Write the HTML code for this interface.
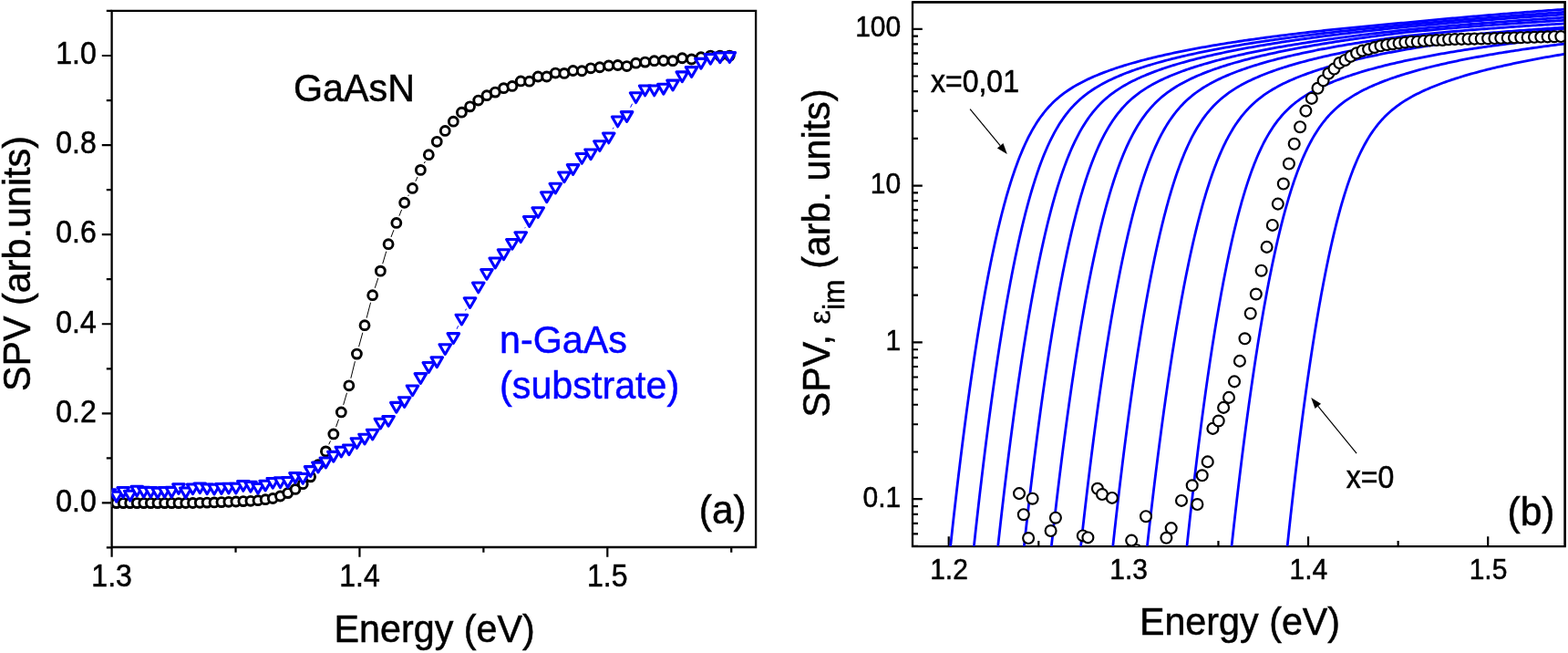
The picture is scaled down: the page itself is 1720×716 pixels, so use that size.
<!DOCTYPE html>
<html><head><meta charset="utf-8"><title>SPV spectra</title>
<style>
html,body{margin:0;padding:0;background:#fff;}
body{width:1720px;height:716px;overflow:hidden;}
svg{display:block;}
text{font-family:'Liberation Sans', Arial, sans-serif;stroke:#000;stroke-width:0.5px;}
.big{font-size:41.3px;}
.tl{font-size:32px;}
.tlb{font-size:30px;}
</style></head><body>
<svg width="1720" height="716" viewBox="0 0 1720 716">
<rect width="1720" height="716" fill="#fff"/>
<g id="pa">
<path d="M122.6 11.8H829.1V600H122.6Z" fill="none" stroke="#000" stroke-width="2.3" stroke-linejoin="miter"/>
<path d="M122.6 600V610.8M258.53 600V605.8M394.45 600V610.8M530.38 600V605.8M666.3 600V610.8M802.23 600V605.8M122.6 600.44H116.8M122.6 551.4H111.8M122.6 502.36H116.8M122.6 453.32H111.8M122.6 404.28H116.8M122.6 355.24H111.8M122.6 306.2H116.8M122.6 257.16H111.8M122.6 208.12H116.8M122.6 159.08H111.8M122.6 110.04H116.8M122.6 61H111.8M122.6 11.96H116.8" stroke="#000" stroke-width="2.2" fill="none"/>
<defs><clipPath id="ca"><rect x="122.6" y="11.8" width="706.5" height="588.2"/></clipPath></defs>
<g clip-path="url(#ca)">
<path fill="none" stroke="#000" stroke-width="1" d="M360.76 487.3L362.46 483.49M368.6 468.09L371.56 459.73M376.66 443.94L380.52 430.76M384.85 414.74L389.43 396.18M393.61 380.11L397.84 364.7M402.13 348.67L406.57 331.71M411.25 315.79L414.78 305.02M419.72 289.18L423.72 275.68M429 259.96L431.92 252.21M437.9 236.73L440.59 229.95M447.7 214.99L448.44 213.66M455.85 198.83L458.01 193.97M465.28 179.06L466.39 177"/>
<circle cx="120.3" cy="551.6" r="4.95" fill="#fff" stroke="#000" stroke-width="2.9"/>
<circle cx="127.73" cy="551.6" r="4.95" fill="#fff" stroke="#000" stroke-width="2.9"/>
<circle cx="135.18" cy="551.6" r="4.95" fill="#fff" stroke="#000" stroke-width="2.9"/>
<circle cx="142.66" cy="551.6" r="4.95" fill="#fff" stroke="#000" stroke-width="2.9"/>
<circle cx="150.18" cy="551.6" r="4.95" fill="#fff" stroke="#000" stroke-width="2.9"/>
<circle cx="157.72" cy="551.6" r="4.95" fill="#fff" stroke="#000" stroke-width="2.9"/>
<circle cx="165.3" cy="551.6" r="4.95" fill="#fff" stroke="#000" stroke-width="2.9"/>
<circle cx="172.92" cy="551.6" r="4.95" fill="#fff" stroke="#000" stroke-width="2.9"/>
<circle cx="180.56" cy="551.6" r="4.95" fill="#fff" stroke="#000" stroke-width="2.9"/>
<circle cx="188.24" cy="551.6" r="4.95" fill="#fff" stroke="#000" stroke-width="2.9"/>
<circle cx="195.95" cy="551.6" r="4.95" fill="#fff" stroke="#000" stroke-width="2.9"/>
<circle cx="203.69" cy="551.5" r="4.95" fill="#fff" stroke="#000" stroke-width="2.9"/>
<circle cx="211.47" cy="551.5" r="4.95" fill="#fff" stroke="#000" stroke-width="2.9"/>
<circle cx="219.28" cy="551.3" r="4.95" fill="#fff" stroke="#000" stroke-width="2.9"/>
<circle cx="227.12" cy="551.1" r="4.95" fill="#fff" stroke="#000" stroke-width="2.9"/>
<circle cx="235" cy="550.9" r="4.95" fill="#fff" stroke="#000" stroke-width="2.9"/>
<circle cx="242.91" cy="550.6" r="4.95" fill="#fff" stroke="#000" stroke-width="2.9"/>
<circle cx="250.85" cy="550.29" r="4.95" fill="#fff" stroke="#000" stroke-width="2.9"/>
<circle cx="258.83" cy="550" r="4.95" fill="#fff" stroke="#000" stroke-width="2.9"/>
<circle cx="266.85" cy="549.6" r="4.95" fill="#fff" stroke="#000" stroke-width="2.9"/>
<circle cx="274.9" cy="549.29" r="4.95" fill="#fff" stroke="#000" stroke-width="2.9"/>
<circle cx="282.99" cy="548.68" r="4.95" fill="#fff" stroke="#000" stroke-width="2.9"/>
<circle cx="291.11" cy="547.71" r="4.95" fill="#fff" stroke="#000" stroke-width="2.9"/>
<circle cx="299.26" cy="546.51" r="4.95" fill="#fff" stroke="#000" stroke-width="2.9"/>
<circle cx="307.46" cy="544.01" r="4.95" fill="#fff" stroke="#000" stroke-width="2.9"/>
<circle cx="315.69" cy="540.61" r="4.95" fill="#fff" stroke="#000" stroke-width="2.9"/>
<circle cx="323.95" cy="536.43" r="4.95" fill="#fff" stroke="#000" stroke-width="2.9"/>
<circle cx="332.25" cy="530.71" r="4.95" fill="#fff" stroke="#000" stroke-width="2.9"/>
<circle cx="340.59" cy="522.86" r="4.95" fill="#fff" stroke="#000" stroke-width="2.9"/>
<circle cx="348.97" cy="509.71" r="4.95" fill="#fff" stroke="#000" stroke-width="2.9"/>
<circle cx="357.39" cy="494.89" r="4.95" fill="#fff" stroke="#000" stroke-width="2.9"/>
<circle cx="365.84" cy="475.91" r="4.95" fill="#fff" stroke="#000" stroke-width="2.9"/>
<circle cx="374.33" cy="451.91" r="4.95" fill="#fff" stroke="#000" stroke-width="2.9"/>
<circle cx="382.86" cy="422.79" r="4.95" fill="#fff" stroke="#000" stroke-width="2.9"/>
<circle cx="391.42" cy="388.12" r="4.95" fill="#fff" stroke="#000" stroke-width="2.9"/>
<circle cx="400.03" cy="356.69" r="4.95" fill="#fff" stroke="#000" stroke-width="2.9"/>
<circle cx="408.67" cy="323.68" r="4.95" fill="#fff" stroke="#000" stroke-width="2.9"/>
<circle cx="417.36" cy="297.14" r="4.95" fill="#fff" stroke="#000" stroke-width="2.9"/>
<circle cx="426.08" cy="267.72" r="4.95" fill="#fff" stroke="#000" stroke-width="2.9"/>
<circle cx="434.84" cy="244.44" r="4.95" fill="#fff" stroke="#000" stroke-width="2.9"/>
<circle cx="443.65" cy="222.24" r="4.95" fill="#fff" stroke="#000" stroke-width="2.9"/>
<circle cx="452.49" cy="206.42" r="4.95" fill="#fff" stroke="#000" stroke-width="2.9"/>
<circle cx="461.37" cy="186.38" r="4.95" fill="#fff" stroke="#000" stroke-width="2.9"/>
<circle cx="470.3" cy="169.68" r="4.95" fill="#fff" stroke="#000" stroke-width="2.9"/>
<circle cx="479.27" cy="155.29" r="4.95" fill="#fff" stroke="#000" stroke-width="2.9"/>
<circle cx="488.27" cy="143.43" r="4.95" fill="#fff" stroke="#000" stroke-width="2.9"/>
<circle cx="497.32" cy="133.21" r="4.95" fill="#fff" stroke="#000" stroke-width="2.9"/>
<circle cx="506.42" cy="123.2" r="4.95" fill="#fff" stroke="#000" stroke-width="2.9"/>
<circle cx="515.55" cy="116.87" r="4.95" fill="#fff" stroke="#000" stroke-width="2.9"/>
<circle cx="524.73" cy="110.03" r="4.95" fill="#fff" stroke="#000" stroke-width="2.9"/>
<circle cx="533.95" cy="104.7" r="4.95" fill="#fff" stroke="#000" stroke-width="2.9"/>
<circle cx="543.21" cy="101.11" r="4.95" fill="#fff" stroke="#000" stroke-width="2.9"/>
<circle cx="552.52" cy="96.64" r="4.95" fill="#fff" stroke="#000" stroke-width="2.9"/>
<circle cx="561.87" cy="94.43" r="4.95" fill="#fff" stroke="#000" stroke-width="2.9"/>
<circle cx="571.26" cy="88.94" r="4.95" fill="#fff" stroke="#000" stroke-width="2.9"/>
<circle cx="580.7" cy="89.2" r="4.95" fill="#fff" stroke="#000" stroke-width="2.9"/>
<circle cx="590.19" cy="84.01" r="4.95" fill="#fff" stroke="#000" stroke-width="2.9"/>
<circle cx="599.72" cy="84" r="4.95" fill="#fff" stroke="#000" stroke-width="2.9"/>
<circle cx="609.29" cy="80.09" r="4.95" fill="#fff" stroke="#000" stroke-width="2.9"/>
<circle cx="618.91" cy="80.4" r="4.95" fill="#fff" stroke="#000" stroke-width="2.9"/>
<circle cx="628.58" cy="77.51" r="4.95" fill="#fff" stroke="#000" stroke-width="2.9"/>
<circle cx="638.29" cy="77.77" r="4.95" fill="#fff" stroke="#000" stroke-width="2.9"/>
<circle cx="648.05" cy="74.84" r="4.95" fill="#fff" stroke="#000" stroke-width="2.9"/>
<circle cx="657.86" cy="73.74" r="4.95" fill="#fff" stroke="#000" stroke-width="2.9"/>
<circle cx="667.71" cy="72.02" r="4.95" fill="#fff" stroke="#000" stroke-width="2.9"/>
<circle cx="677.62" cy="71.5" r="4.95" fill="#fff" stroke="#000" stroke-width="2.9"/>
<circle cx="687.57" cy="72.54" r="4.95" fill="#fff" stroke="#000" stroke-width="2.9"/>
<circle cx="697.57" cy="69.18" r="4.95" fill="#fff" stroke="#000" stroke-width="2.9"/>
<circle cx="707.62" cy="68.11" r="4.95" fill="#fff" stroke="#000" stroke-width="2.9"/>
<circle cx="717.71" cy="66.71" r="4.95" fill="#fff" stroke="#000" stroke-width="2.9"/>
<circle cx="727.86" cy="66.5" r="4.95" fill="#fff" stroke="#000" stroke-width="2.9"/>
<circle cx="738.06" cy="66.65" r="4.95" fill="#fff" stroke="#000" stroke-width="2.9"/>
<circle cx="748.31" cy="63.73" r="4.95" fill="#fff" stroke="#000" stroke-width="2.9"/>
<circle cx="758.6" cy="64.99" r="4.95" fill="#fff" stroke="#000" stroke-width="2.9"/>
<circle cx="768.95" cy="62.74" r="4.95" fill="#fff" stroke="#000" stroke-width="2.9"/>
<circle cx="779.35" cy="61.1" r="4.95" fill="#fff" stroke="#000" stroke-width="2.9"/>
<circle cx="789.81" cy="61.1" r="4.95" fill="#fff" stroke="#000" stroke-width="2.9"/>
<circle cx="800.31" cy="61.1" r="4.95" fill="#fff" stroke="#000" stroke-width="2.9"/>
<path fill="none" stroke="#00f" stroke-width="1" d="M501.11 360.71L502.63 357.28M510.54 340.45L511.43 338.64M575.73 250.23L576.23 249.32M672.19 141.48L673.14 139.76M691.59 117.83L693.54 113.77"/>
<path d="M114 536.85H126.6L120.3 547.65Z" fill="#fff" stroke="#00f" stroke-width="3.05" stroke-linejoin="round"/>
<path d="M121.43 539.33H134.03L127.73 550.13Z" fill="#fff" stroke="#00f" stroke-width="3.05" stroke-linejoin="round"/>
<path d="M128.88 534.59H141.48L135.18 545.39Z" fill="#fff" stroke="#00f" stroke-width="3.05" stroke-linejoin="round"/>
<path d="M136.36 538.32H148.96L142.66 549.12Z" fill="#fff" stroke="#00f" stroke-width="3.05" stroke-linejoin="round"/>
<path d="M143.88 533.2H156.48L150.18 544Z" fill="#fff" stroke="#00f" stroke-width="3.05" stroke-linejoin="round"/>
<path d="M151.42 534.38H164.02L157.72 545.18Z" fill="#fff" stroke="#00f" stroke-width="3.05" stroke-linejoin="round"/>
<path d="M159 534.45H171.6L165.3 545.25Z" fill="#fff" stroke="#00f" stroke-width="3.05" stroke-linejoin="round"/>
<path d="M166.62 535.13H179.22L172.92 545.93Z" fill="#fff" stroke="#00f" stroke-width="3.05" stroke-linejoin="round"/>
<path d="M174.26 534.47H186.86L180.56 545.27Z" fill="#fff" stroke="#00f" stroke-width="3.05" stroke-linejoin="round"/>
<path d="M181.94 534.38H194.54L188.24 545.18Z" fill="#fff" stroke="#00f" stroke-width="3.05" stroke-linejoin="round"/>
<path d="M189.65 530.72H202.25L195.95 541.52Z" fill="#fff" stroke="#00f" stroke-width="3.05" stroke-linejoin="round"/>
<path d="M197.39 535.08H209.99L203.69 545.88Z" fill="#fff" stroke="#00f" stroke-width="3.05" stroke-linejoin="round"/>
<path d="M205.17 530.97H217.77L211.47 541.77Z" fill="#fff" stroke="#00f" stroke-width="3.05" stroke-linejoin="round"/>
<path d="M212.98 529.96H225.58L219.28 540.76Z" fill="#fff" stroke="#00f" stroke-width="3.05" stroke-linejoin="round"/>
<path d="M220.82 530.96H233.42L227.12 541.76Z" fill="#fff" stroke="#00f" stroke-width="3.05" stroke-linejoin="round"/>
<path d="M228.7 531.25H241.3L235 542.05Z" fill="#fff" stroke="#00f" stroke-width="3.05" stroke-linejoin="round"/>
<path d="M236.61 530.58H249.21L242.91 541.38Z" fill="#fff" stroke="#00f" stroke-width="3.05" stroke-linejoin="round"/>
<path d="M244.55 530.15H257.15L250.85 540.95Z" fill="#fff" stroke="#00f" stroke-width="3.05" stroke-linejoin="round"/>
<path d="M252.53 530.15H265.13L258.83 540.95Z" fill="#fff" stroke="#00f" stroke-width="3.05" stroke-linejoin="round"/>
<path d="M260.55 527.54H273.15L266.85 538.34Z" fill="#fff" stroke="#00f" stroke-width="3.05" stroke-linejoin="round"/>
<path d="M268.6 528.38H281.2L274.9 539.18Z" fill="#fff" stroke="#00f" stroke-width="3.05" stroke-linejoin="round"/>
<path d="M276.69 530.44H289.29L282.99 541.24Z" fill="#fff" stroke="#00f" stroke-width="3.05" stroke-linejoin="round"/>
<path d="M284.81 527.22H297.41L291.11 538.02Z" fill="#fff" stroke="#00f" stroke-width="3.05" stroke-linejoin="round"/>
<path d="M292.96 524.44H305.56L299.26 535.24Z" fill="#fff" stroke="#00f" stroke-width="3.05" stroke-linejoin="round"/>
<path d="M301.16 523.88H313.76L307.46 534.68Z" fill="#fff" stroke="#00f" stroke-width="3.05" stroke-linejoin="round"/>
<path d="M309.39 523.57H321.99L315.69 534.37Z" fill="#fff" stroke="#00f" stroke-width="3.05" stroke-linejoin="round"/>
<path d="M317.65 518.58H330.25L323.95 529.38Z" fill="#fff" stroke="#00f" stroke-width="3.05" stroke-linejoin="round"/>
<path d="M325.95 519.49H338.55L332.25 530.29Z" fill="#fff" stroke="#00f" stroke-width="3.05" stroke-linejoin="round"/>
<path d="M334.29 511.61H346.89L340.59 522.41Z" fill="#fff" stroke="#00f" stroke-width="3.05" stroke-linejoin="round"/>
<path d="M342.67 507.1H355.27L348.97 517.9Z" fill="#fff" stroke="#00f" stroke-width="3.05" stroke-linejoin="round"/>
<path d="M351.09 502.08H363.69L357.39 512.88Z" fill="#fff" stroke="#00f" stroke-width="3.05" stroke-linejoin="round"/>
<path d="M359.54 495.35H372.14L365.84 506.15Z" fill="#fff" stroke="#00f" stroke-width="3.05" stroke-linejoin="round"/>
<path d="M368.03 490.15H380.63L374.33 500.95Z" fill="#fff" stroke="#00f" stroke-width="3.05" stroke-linejoin="round"/>
<path d="M376.56 487.92H389.16L382.86 498.72Z" fill="#fff" stroke="#00f" stroke-width="3.05" stroke-linejoin="round"/>
<path d="M385.12 480.68H397.72L391.42 491.48Z" fill="#fff" stroke="#00f" stroke-width="3.05" stroke-linejoin="round"/>
<path d="M393.73 476.18H406.33L400.03 486.98Z" fill="#fff" stroke="#00f" stroke-width="3.05" stroke-linejoin="round"/>
<path d="M402.37 471.17H414.97L408.67 481.97Z" fill="#fff" stroke="#00f" stroke-width="3.05" stroke-linejoin="round"/>
<path d="M411.06 459.16H423.66L417.36 469.96Z" fill="#fff" stroke="#00f" stroke-width="3.05" stroke-linejoin="round"/>
<path d="M419.78 456.47H432.38L426.08 467.27Z" fill="#fff" stroke="#00f" stroke-width="3.05" stroke-linejoin="round"/>
<path d="M428.54 441.39H441.14L434.84 452.19Z" fill="#fff" stroke="#00f" stroke-width="3.05" stroke-linejoin="round"/>
<path d="M437.35 435.68H449.95L443.65 446.48Z" fill="#fff" stroke="#00f" stroke-width="3.05" stroke-linejoin="round"/>
<path d="M446.19 422.9H458.79L452.49 433.7Z" fill="#fff" stroke="#00f" stroke-width="3.05" stroke-linejoin="round"/>
<path d="M455.07 409.63H467.67L461.37 420.43Z" fill="#fff" stroke="#00f" stroke-width="3.05" stroke-linejoin="round"/>
<path d="M464 397.59H476.6L470.3 408.39Z" fill="#fff" stroke="#00f" stroke-width="3.05" stroke-linejoin="round"/>
<path d="M472.97 391.84H485.57L479.27 402.64Z" fill="#fff" stroke="#00f" stroke-width="3.05" stroke-linejoin="round"/>
<path d="M481.97 377.68H494.57L488.27 388.48Z" fill="#fff" stroke="#00f" stroke-width="3.05" stroke-linejoin="round"/>
<path d="M491.02 365.61H503.62L497.32 376.41Z" fill="#fff" stroke="#00f" stroke-width="3.05" stroke-linejoin="round"/>
<path d="M500.12 345.18H512.72L506.42 355.98Z" fill="#fff" stroke="#00f" stroke-width="3.05" stroke-linejoin="round"/>
<path d="M509.25 326.71H521.85L515.55 337.51Z" fill="#fff" stroke="#00f" stroke-width="3.05" stroke-linejoin="round"/>
<path d="M518.43 310.03H531.03L524.73 320.83Z" fill="#fff" stroke="#00f" stroke-width="3.05" stroke-linejoin="round"/>
<path d="M527.65 295.48H540.25L533.95 306.28Z" fill="#fff" stroke="#00f" stroke-width="3.05" stroke-linejoin="round"/>
<path d="M536.91 283.09H549.51L543.21 293.89Z" fill="#fff" stroke="#00f" stroke-width="3.05" stroke-linejoin="round"/>
<path d="M546.22 273.82H558.82L552.52 284.62Z" fill="#fff" stroke="#00f" stroke-width="3.05" stroke-linejoin="round"/>
<path d="M555.57 262.46H568.17L561.87 273.26Z" fill="#fff" stroke="#00f" stroke-width="3.05" stroke-linejoin="round"/>
<path d="M564.96 254.79H577.56L571.26 265.59Z" fill="#fff" stroke="#00f" stroke-width="3.05" stroke-linejoin="round"/>
<path d="M574.4 237.57H587L580.7 248.37Z" fill="#fff" stroke="#00f" stroke-width="3.05" stroke-linejoin="round"/>
<path d="M583.89 227.71H596.49L590.19 238.51Z" fill="#fff" stroke="#00f" stroke-width="3.05" stroke-linejoin="round"/>
<path d="M593.42 210.82H606.02L599.72 221.62Z" fill="#fff" stroke="#00f" stroke-width="3.05" stroke-linejoin="round"/>
<path d="M602.99 201.2H615.59L609.29 212Z" fill="#fff" stroke="#00f" stroke-width="3.05" stroke-linejoin="round"/>
<path d="M612.61 188.91H625.21L618.91 199.71Z" fill="#fff" stroke="#00f" stroke-width="3.05" stroke-linejoin="round"/>
<path d="M622.28 180.63H634.88L628.58 191.43Z" fill="#fff" stroke="#00f" stroke-width="3.05" stroke-linejoin="round"/>
<path d="M631.99 168.49H644.59L638.29 179.29Z" fill="#fff" stroke="#00f" stroke-width="3.05" stroke-linejoin="round"/>
<path d="M641.75 163.92H654.35L648.05 174.72Z" fill="#fff" stroke="#00f" stroke-width="3.05" stroke-linejoin="round"/>
<path d="M651.56 154.73H664.16L657.86 165.53Z" fill="#fff" stroke="#00f" stroke-width="3.05" stroke-linejoin="round"/>
<path d="M661.41 146.03H674.01L667.71 156.83Z" fill="#fff" stroke="#00f" stroke-width="3.05" stroke-linejoin="round"/>
<path d="M671.32 128.01H683.92L677.62 138.81Z" fill="#fff" stroke="#00f" stroke-width="3.05" stroke-linejoin="round"/>
<path d="M681.27 122.62H693.87L687.57 133.42Z" fill="#fff" stroke="#00f" stroke-width="3.05" stroke-linejoin="round"/>
<path d="M691.27 101.79H703.87L697.57 112.59Z" fill="#fff" stroke="#00f" stroke-width="3.05" stroke-linejoin="round"/>
<path d="M701.32 94.04H713.92L707.62 104.84Z" fill="#fff" stroke="#00f" stroke-width="3.05" stroke-linejoin="round"/>
<path d="M711.41 94.03H724.01L717.71 104.83Z" fill="#fff" stroke="#00f" stroke-width="3.05" stroke-linejoin="round"/>
<path d="M721.56 92.32H734.16L727.86 103.12Z" fill="#fff" stroke="#00f" stroke-width="3.05" stroke-linejoin="round"/>
<path d="M731.76 88.14H744.36L738.06 98.94Z" fill="#fff" stroke="#00f" stroke-width="3.05" stroke-linejoin="round"/>
<path d="M742.01 78.86H754.61L748.31 89.66Z" fill="#fff" stroke="#00f" stroke-width="3.05" stroke-linejoin="round"/>
<path d="M752.3 73.64H764.9L758.6 84.44Z" fill="#fff" stroke="#00f" stroke-width="3.05" stroke-linejoin="round"/>
<path d="M762.65 64.38H775.25L768.95 75.18Z" fill="#fff" stroke="#00f" stroke-width="3.05" stroke-linejoin="round"/>
<path d="M773.05 59.42H785.65L779.35 70.22Z" fill="#fff" stroke="#00f" stroke-width="3.05" stroke-linejoin="round"/>
<path d="M783.51 57.95H796.11L789.81 68.75Z" fill="#fff" stroke="#00f" stroke-width="3.05" stroke-linejoin="round"/>
<path d="M794.01 57.62H806.61L800.31 68.42Z" fill="#fff" stroke="#00f" stroke-width="3.05" stroke-linejoin="round"/>
</g>
<text transform="translate(122.6,642.5) scale(1,1.09)" class="tl" text-anchor="middle">1.3</text>
<text transform="translate(394.45,642.5) scale(1,1.09)" class="tl" text-anchor="middle">1.4</text>
<text transform="translate(666.3,642.5) scale(1,1.09)" class="tl" text-anchor="middle">1.5</text>
<text transform="translate(105.8,560.7) scale(1,1.09)" class="tl" text-anchor="end">0.0</text>
<text transform="translate(105.8,462.62) scale(1,1.09)" class="tl" text-anchor="end">0.2</text>
<text transform="translate(105.8,364.54) scale(1,1.09)" class="tl" text-anchor="end">0.4</text>
<text transform="translate(105.8,266.46) scale(1,1.09)" class="tl" text-anchor="end">0.6</text>
<text transform="translate(105.8,168.38) scale(1,1.09)" class="tl" text-anchor="end">0.8</text>
<text transform="translate(105.8,70.3) scale(1,1.09)" class="tl" text-anchor="end">1.0</text>
<text transform="translate(476.6,704) scale(1,1.025)" class="big" text-anchor="middle">Energy (eV)</text>
<text transform="translate(33,289) rotate(-90) scale(1,1.025)" class="big" text-anchor="middle">SPV (arb.units)</text>
<text transform="translate(322,110.9) scale(1,1.025)" class="big">GaAsN</text>
<text transform="translate(548,387) scale(1,1.025)" class="big" style="fill:#00f;stroke:#00f">n-GaAs</text>
<text transform="translate(548,436.5) scale(1,1.025)" class="big" style="fill:#00f;stroke:#00f">(substrate)</text>
<text transform="translate(766.8,573.5) scale(1,1.025)" class="big" style="font-size:42.5px">(a)</text>
</g>
<g id="pb">
<defs><clipPath id="cb"><rect x="1001" y="2.4" width="715.7" height="596.7"/></clipPath></defs>
<path d="M1001 2.4H1716.7V599.1H1001Z" fill="none" stroke="#000" stroke-width="2.3"/>
<path d="M1001 598.92H1007M1001 585.31H1007M1001 573.81H1007M1001 563.85H1007M1001 555.06H1007M1001 547.2H1011.8M1001 495.48H1007M1001 465.23H1007M1001 443.77H1007M1001 427.12H1007M1001 413.51H1007M1001 402.01H1007M1001 392.05H1007M1001 383.26H1007M1001 375.4H1011.8M1001 323.68H1007M1001 293.43H1007M1001 271.97H1007M1001 255.32H1007M1001 241.71H1007M1001 230.21H1007M1001 220.25H1007M1001 211.46H1007M1001 203.6H1011.8M1001 151.88H1007M1001 121.63H1007M1001 100.17H1007M1001 83.52H1007M1001 69.91H1007M1001 58.41H1007M1001 48.45H1007M1001 39.66H1007M1001 31.8H1011.8M1040.7 599.1V588.3M1139.29 599.1V593.1M1237.87 599.1V588.3M1336.46 599.1V593.1M1435.04 599.1V588.3M1533.63 599.1V593.1M1632.21 599.1V588.3" stroke="#000" stroke-width="2.2" fill="none"/>
<g clip-path="url(#cb)">
<polyline fill="none" stroke="#00f" stroke-width="2.8" stroke-linejoin="round" points="1038.63,636.98 1039.27,630.78 1039.91,624.62 1040.55,618.51 1041.19,612.44 1041.83,606.42 1042.48,600.44 1043.12,594.5 1043.76,588.6 1044.4,582.75 1045.04,576.94 1045.68,571.18 1046.32,565.46 1046.97,559.78 1047.61,554.14 1048.25,548.55 1048.89,543 1049.53,537.49 1050.17,532.03 1050.81,526.61 1051.45,521.23 1052.1,515.89 1052.74,510.6 1053.38,505.35 1054.02,500.14 1054.66,494.97 1055.3,489.84 1055.94,484.76 1056.59,479.72 1057.23,474.72 1057.87,469.76 1058.51,464.85 1059.15,459.97 1059.79,455.14 1060.43,450.35 1061.07,445.6 1061.72,440.89 1062.36,436.22 1063,431.6 1063.64,427.01 1064.28,422.47 1064.92,417.96 1065.56,413.5 1066.21,409.08 1066.85,404.7 1067.49,400.36 1068.13,396.05 1068.77,391.8 1069.41,387.57 1070.05,383.39 1070.69,379.25 1071.34,375.15 1071.98,371.09 1072.62,367.07 1073.26,363.09 1073.9,359.14 1074.54,355.24 1075.18,351.37 1075.83,347.55 1076.47,343.76 1077.11,340.01 1077.75,336.3 1078.39,332.63 1079.03,329 1079.67,325.4 1080.31,321.84 1080.96,318.32 1081.6,314.84 1082.24,311.4 1082.88,307.99 1083.52,304.62 1084.16,301.29 1084.8,297.99 1085.45,294.73 1086.09,291.51 1086.73,288.33 1087.37,285.18 1088.01,282.06 1088.65,278.99 1089.29,275.95 1089.93,272.94 1090.58,269.97 1091.22,267.03 1091.86,264.13 1092.5,261.27 1093.14,258.44 1093.78,255.64 1094.42,252.88 1095.07,250.15 1095.71,247.46 1096.35,244.8 1096.99,242.18 1097.63,239.58 1098.27,237.03 1098.91,234.5 1099.55,232.01 1100.2,229.55 1100.84,227.12 1101.48,224.72 1102.12,222.36 1102.76,220.03 1103.4,217.72 1104.04,215.45 1104.69,213.22 1105.33,211.01 1105.97,208.83 1106.61,206.69 1107.25,204.57 1107.89,202.48 1108.53,200.43 1109.18,198.4 1109.82,196.4 1110.46,194.43 1111.1,192.49 1111.74,190.58 1112.38,188.69 1113.66,185.01 1114.95,181.43 1116.23,177.97 1117.51,174.6 1118.8,171.35 1120.08,168.19 1121.36,165.13 1122.64,162.17 1123.93,159.3 1125.21,156.52 1126.49,153.84 1127.77,151.24 1129.06,148.72 1130.34,146.29 1131.62,143.94 1132.9,141.67 1134.19,139.48 1135.47,137.35 1136.75,135.3 1138.04,133.32 1139.32,131.4 1140.6,129.55 1141.88,127.76 1143.17,126.04 1144.45,124.37 1145.73,122.75 1147.01,121.19 1148.3,119.68 1149.58,118.22 1150.86,116.8 1152.14,115.44 1153.43,114.11 1154.71,112.83 1155.99,111.59 1157.92,109.8 1159.84,108.09 1161.76,106.45 1163.69,104.89 1165.61,103.39 1167.54,101.95 1169.46,100.57 1171.38,99.24 1173.31,97.97 1175.23,96.73 1177.16,95.55 1179.08,94.4 1181,93.29 1182.93,92.21 1184.85,91.17 1186.78,90.16 1188.7,89.18 1190.62,88.23 1192.55,87.3 1194.47,86.39 1196.4,85.51 1198.32,84.65 1200.24,83.82 1202.17,83 1204.09,82.2 1206.02,81.41 1207.94,80.65 1209.86,79.9 1211.79,79.17 1213.71,78.45 1215.64,77.74 1217.56,77.05 1219.49,76.37 1221.41,75.71 1223.33,75.05 1225.26,74.41 1227.18,73.78 1229.11,73.16 1231.03,72.55 1232.95,71.95 1234.88,71.36 1236.8,70.78 1239.37,70.02 1241.93,69.28 1244.5,68.55 1247.06,67.83 1249.63,67.13 1252.19,66.44 1254.76,65.77 1257.32,65.1 1259.89,64.45 1262.45,63.81 1265.02,63.18 1267.59,62.56 1270.15,61.96 1272.72,61.36 1275.28,60.77 1277.85,60.19 1280.41,59.62 1282.98,59.06 1285.54,58.5 1288.11,57.96 1290.67,57.42 1293.24,56.89 1295.8,56.37 1298.37,55.85 1300.93,55.35 1303.5,54.84 1306.07,54.35 1308.63,53.86 1311.2,53.38 1313.76,52.91 1316.33,52.44 1318.89,51.97 1321.46,51.52 1324.02,51.06 1326.59,50.62 1329.15,50.18 1331.72,49.74 1334.28,49.31 1336.85,48.88 1339.42,48.46 1341.98,48.05 1344.55,47.63 1347.11,47.23 1349.68,46.82 1352.24,46.43 1354.81,46.03 1357.37,45.64 1359.94,45.25 1362.5,44.87 1365.07,44.49 1367.63,44.12 1370.2,43.75 1372.76,43.38 1375.33,43.02 1377.9,42.66 1380.46,42.3 1383.03,41.95 1385.59,41.6 1388.16,41.25 1390.72,40.91 1393.29,40.57 1395.85,40.23 1398.42,39.9 1400.98,39.57 1403.55,39.24 1406.11,38.91 1408.68,38.59 1411.24,38.27 1413.81,37.96 1416.38,37.64 1418.94,37.33 1421.51,37.02 1424.07,36.71 1426.64,36.41 1429.2,36.11 1431.77,35.81 1434.33,35.51 1436.9,35.22 1439.46,34.93 1442.03,34.64 1444.59,34.35 1447.16,34.06 1449.72,33.78 1452.29,33.5 1454.86,33.22 1457.42,32.94 1459.99,32.67 1462.55,32.4 1465.12,32.13 1467.68,31.86 1470.25,31.59 1472.81,31.32 1475.38,31.06 1477.94,30.8 1480.51,30.54 1483.07,30.28 1485.64,30.03 1488.21,29.77 1490.77,29.52 1493.34,29.27 1495.9,29.02 1498.47,28.77 1501.03,28.53 1503.6,28.28 1506.16,28.04 1508.73,27.8 1511.29,27.56 1513.86,27.32 1516.42,27.09 1518.99,26.85 1521.55,26.62 1524.12,26.39 1526.69,26.16 1529.25,25.93 1531.82,25.7 1534.38,25.47 1536.95,25.25 1539.51,25.02 1542.08,24.78 1544.64,24.53 1547.21,24.28 1549.77,24.03 1552.34,23.79 1554.9,23.54 1557.47,23.3 1560.03,23.06 1562.6,22.81 1565.17,22.57 1567.73,22.34 1570.3,22.1 1572.86,21.86 1575.43,21.63 1577.99,21.39 1580.56,21.16 1583.12,20.93 1585.69,20.7 1588.25,20.47 1590.82,20.24 1593.38,20.01 1595.95,19.78 1598.52,19.56 1601.08,19.33 1603.65,19.11 1606.21,18.89 1608.78,18.67 1611.34,18.45 1613.91,18.23 1616.47,18.01 1619.04,17.79 1621.6,17.57 1624.17,17.36 1626.73,17.14 1629.3,16.93 1631.86,16.72 1634.43,16.5 1637,16.29 1639.56,16.08 1642.13,15.87 1644.69,15.67 1647.26,15.46 1649.82,15.25 1652.39,15.05 1654.95,14.84 1657.52,14.64 1660.08,14.43 1662.65,14.23 1665.21,14.03 1667.78,13.83 1670.34,13.63 1672.91,13.43 1675.48,13.23 1678.04,13.03 1680.61,12.83 1683.17,12.64 1685.74,12.44 1688.3,12.25 1690.87,12.05 1693.43,11.86 1696,11.67 1698.56,11.47 1701.13,11.28 1703.69,11.09 1706.26,10.9 1708.83,10.71 1711.39,10.53 1713.96,10.34 1716.52,10.15 1719.09,9.99 1721.65,9.83 1724.22,9.68 1724.86,9.64"/>
<polyline fill="none" stroke="#00f" stroke-width="2.8" stroke-linejoin="round" points="1064.28,637.71 1064.92,631.5 1065.56,625.35 1066.21,619.23 1066.85,613.16 1067.49,607.14 1068.13,601.15 1068.77,595.21 1069.41,589.31 1070.05,583.46 1070.69,577.65 1071.34,571.88 1071.98,566.16 1072.62,560.48 1073.26,554.84 1073.9,549.25 1074.54,543.69 1075.18,538.19 1075.83,532.72 1076.47,527.29 1077.11,521.91 1077.75,516.58 1078.39,511.28 1079.03,506.03 1079.67,500.81 1080.31,495.64 1080.96,490.52 1081.6,485.43 1082.24,480.39 1082.88,475.38 1083.52,470.42 1084.16,465.51 1084.8,460.63 1085.45,455.79 1086.09,451 1086.73,446.25 1087.37,441.54 1088.01,436.87 1088.65,432.24 1089.29,427.65 1089.93,423.1 1090.58,418.6 1091.22,414.13 1091.86,409.71 1092.5,405.32 1093.14,400.98 1093.78,396.67 1094.42,392.41 1095.07,388.19 1095.71,384 1096.35,379.86 1096.99,375.75 1097.63,371.69 1098.27,367.67 1098.91,363.68 1099.55,359.73 1100.2,355.83 1100.84,351.96 1101.48,348.13 1102.12,344.34 1102.76,340.59 1103.4,336.87 1104.04,333.2 1104.69,329.56 1105.33,325.96 1105.97,322.4 1106.61,318.88 1107.25,315.39 1107.89,311.95 1108.53,308.53 1109.18,305.16 1109.82,301.83 1110.46,298.53 1111.1,295.27 1111.74,292.04 1112.38,288.85 1113.02,285.7 1113.66,282.58 1114.31,279.5 1114.95,276.45 1115.59,273.44 1116.23,270.47 1116.87,267.53 1117.51,264.63 1118.15,261.76 1118.8,258.93 1119.44,256.13 1120.08,253.36 1120.72,250.63 1121.36,247.94 1122,245.27 1122.64,242.64 1123.28,240.05 1123.93,237.48 1124.57,234.96 1125.21,232.46 1125.85,229.99 1126.49,227.56 1127.13,225.16 1127.77,222.8 1128.42,220.46 1129.06,218.16 1129.7,215.88 1130.34,213.64 1130.98,211.43 1131.62,209.25 1132.26,207.1 1132.9,204.98 1133.55,202.89 1134.19,200.83 1134.83,198.8 1135.47,196.8 1136.11,194.82 1136.75,192.88 1137.39,190.96 1138.04,189.08 1138.68,187.22 1139.96,183.58 1141.24,180.05 1142.52,176.63 1143.81,173.31 1145.09,170.1 1146.37,166.98 1147.66,163.97 1148.94,161.05 1150.22,158.22 1151.5,155.48 1152.79,152.83 1154.07,150.27 1155.35,147.8 1156.63,145.4 1157.92,143.08 1159.2,140.84 1160.48,138.68 1161.76,136.59 1163.05,134.57 1164.33,132.61 1165.61,130.73 1166.9,128.9 1168.18,127.14 1169.46,125.44 1170.74,123.79 1172.03,122.2 1173.31,120.66 1174.59,119.17 1175.87,117.73 1177.16,116.33 1178.44,114.99 1179.72,113.68 1181,112.41 1182.29,111.19 1184.21,109.42 1186.14,107.73 1188.06,106.12 1189.98,104.57 1191.91,103.09 1193.83,101.67 1195.76,100.3 1197.68,98.99 1199.6,97.73 1201.53,96.51 1203.45,95.33 1205.38,94.19 1207.3,93.09 1209.22,92.03 1211.15,91 1213.07,89.99 1215,89.02 1216.92,88.07 1218.84,87.15 1220.77,86.26 1222.69,85.38 1224.62,84.53 1226.54,83.7 1228.46,82.88 1230.39,82.09 1232.31,81.31 1234.24,80.55 1236.16,79.8 1238.08,79.07 1240.01,78.36 1241.93,77.66 1243.86,76.97 1245.78,76.3 1247.7,75.63 1249.63,74.98 1251.55,74.34 1253.48,73.72 1255.4,73.1 1257.32,72.49 1259.25,71.9 1261.17,71.31 1263.1,70.73 1265.66,69.98 1268.23,69.23 1270.79,68.51 1273.36,67.8 1275.92,67.1 1278.49,66.41 1281.05,65.74 1283.62,65.08 1286.18,64.43 1288.75,63.79 1291.31,63.16 1293.88,62.55 1296.45,61.94 1299.01,61.35 1301.58,60.76 1304.14,60.18 1306.71,59.61 1309.27,59.05 1311.84,58.5 1314.4,57.96 1316.97,57.42 1319.53,56.89 1322.1,56.37 1324.66,55.86 1327.23,55.35 1329.79,54.85 1332.36,54.36 1334.93,53.87 1337.49,53.39 1340.06,52.92 1342.62,52.45 1345.19,51.99 1347.75,51.53 1350.32,51.08 1352.88,50.64 1355.45,50.2 1358.01,49.76 1360.58,49.33 1363.14,48.91 1365.71,48.49 1368.28,48.07 1370.84,47.66 1373.41,47.25 1375.97,46.85 1378.54,46.45 1381.1,46.06 1383.67,45.67 1386.23,45.29 1388.8,44.9 1391.36,44.53 1393.93,44.15 1396.49,43.78 1399.06,43.42 1401.62,43.05 1404.19,42.7 1406.76,42.34 1409.32,41.99 1411.89,41.64 1414.45,41.29 1417.02,40.95 1419.58,40.61 1422.15,40.27 1424.71,39.94 1427.28,39.61 1429.84,39.28 1432.41,38.96 1434.97,38.64 1437.54,38.32 1440.1,38 1442.67,37.69 1445.24,37.38 1447.8,37.07 1450.37,36.76 1452.93,36.46 1455.5,36.16 1458.06,35.86 1460.63,35.56 1463.19,35.27 1465.76,34.98 1468.32,34.69 1470.89,34.4 1473.45,34.12 1476.02,33.83 1478.59,33.55 1481.15,33.27 1483.72,33 1486.28,32.72 1488.85,32.45 1491.41,32.18 1493.98,31.91 1496.54,31.65 1499.11,31.38 1501.67,31.12 1504.24,30.86 1506.8,30.6 1509.37,30.34 1511.93,30.09 1514.5,29.83 1517.07,29.58 1519.63,29.33 1522.2,29.08 1524.76,28.83 1527.33,28.59 1529.89,28.35 1532.46,28.1 1535.02,27.86 1537.59,27.62 1540.15,27.39 1542.72,27.14 1545.28,26.9 1547.85,26.66 1550.41,26.41 1552.98,26.18 1555.55,25.94 1558.11,25.7 1560.68,25.47 1563.24,25.23 1565.81,25 1568.37,24.77 1570.94,24.54 1573.5,24.31 1576.07,24.09 1578.63,23.86 1581.2,23.64 1583.76,23.41 1586.33,23.19 1588.9,22.97 1591.46,22.75 1594.03,22.53 1596.59,22.32 1599.16,22.1 1601.72,21.89 1604.29,21.67 1606.85,21.46 1609.42,21.25 1611.98,21.04 1614.55,20.83 1617.11,20.62 1619.68,20.41 1622.24,20.21 1624.81,20 1627.38,19.8 1629.94,19.6 1632.51,19.39 1635.07,19.19 1637.64,18.99 1640.2,18.8 1642.77,18.6 1645.33,18.4 1647.9,18.2 1650.46,18.01 1653.03,17.81 1655.59,17.62 1658.16,17.43 1660.72,17.24 1663.29,17.05 1665.86,16.86 1668.42,16.67 1670.99,16.48 1673.55,16.29 1676.12,16.11 1678.68,15.92 1681.25,15.74 1683.81,15.55 1686.38,15.37 1688.94,15.19 1691.51,15.01 1694.07,14.83 1696.64,14.65 1699.21,14.47 1701.77,14.29 1704.34,14.11 1706.9,13.94 1709.47,13.76 1712.03,13.58 1714.6,13.41 1717.16,13.24 1719.73,13.07 1722.29,12.91 1724.86,12.75 1724.86,12.75"/>
<polyline fill="none" stroke="#00f" stroke-width="2.8" stroke-linejoin="round" points="1090.58,637.43 1091.22,631.33 1091.86,625.27 1092.5,619.26 1093.14,613.28 1093.78,607.34 1094.42,601.45 1095.07,595.6 1095.71,589.8 1096.35,584.03 1096.99,578.31 1097.63,572.62 1098.27,566.98 1098.91,561.39 1099.55,555.83 1100.2,550.31 1100.84,544.84 1101.48,539.4 1102.12,534.01 1102.76,528.66 1103.4,523.35 1104.04,518.09 1104.69,512.86 1105.33,507.67 1105.97,502.53 1106.61,497.42 1107.25,492.36 1107.89,487.33 1108.53,482.35 1109.18,477.41 1109.82,472.51 1110.46,467.65 1111.1,462.83 1111.74,458.05 1112.38,453.31 1113.02,448.61 1113.66,443.95 1114.31,439.33 1114.95,434.75 1115.59,430.2 1116.23,425.7 1116.87,421.24 1117.51,416.82 1118.15,412.44 1118.8,408.09 1119.44,403.79 1120.08,399.52 1120.72,395.29 1121.36,391.11 1122,386.96 1122.64,382.85 1123.28,378.77 1123.93,374.74 1124.57,370.74 1125.21,366.79 1125.85,362.87 1126.49,358.99 1127.13,355.14 1127.77,351.34 1128.42,347.57 1129.06,343.84 1129.7,340.15 1130.34,336.49 1130.98,332.87 1131.62,329.29 1132.26,325.74 1132.9,322.24 1133.55,318.76 1134.19,315.33 1134.83,311.93 1135.47,308.57 1136.11,305.24 1136.75,301.95 1137.39,298.7 1138.04,295.48 1138.68,292.29 1139.32,289.14 1139.96,286.03 1140.6,282.95 1141.24,279.91 1141.88,276.9 1142.52,273.93 1143.17,270.98 1143.81,268.08 1144.45,265.21 1145.09,262.37 1145.73,259.57 1146.37,256.79 1147.01,254.06 1147.66,251.35 1148.3,248.68 1148.94,246.04 1149.58,243.44 1150.22,240.87 1150.86,238.32 1151.5,235.82 1152.14,233.34 1152.79,230.89 1153.43,228.48 1154.07,226.1 1154.71,223.74 1155.35,221.42 1155.99,219.13 1156.63,216.87 1157.28,214.64 1157.92,212.44 1158.56,210.27 1159.2,208.13 1159.84,206.02 1160.48,203.94 1161.12,201.89 1161.76,199.87 1162.41,197.87 1163.05,195.9 1163.69,193.96 1164.33,192.05 1164.97,190.17 1166.25,186.48 1167.54,182.9 1168.82,179.43 1170.1,176.05 1171.38,172.78 1172.67,169.61 1173.95,166.54 1175.23,163.56 1176.52,160.67 1177.8,157.88 1179.08,155.17 1180.36,152.55 1181.65,150.01 1182.93,147.55 1184.21,145.18 1185.49,142.88 1186.78,140.66 1188.06,138.51 1189.34,136.43 1190.62,134.42 1191.91,132.47 1193.19,130.59 1194.47,128.78 1195.76,127.02 1197.04,125.32 1198.32,123.68 1199.6,122.09 1200.89,120.55 1202.17,119.06 1203.45,117.62 1204.73,116.23 1206.02,114.88 1207.3,113.57 1208.58,112.3 1209.86,111.08 1211.79,109.3 1213.71,107.61 1215.64,105.99 1217.56,104.44 1219.49,102.96 1221.41,101.53 1223.33,100.16 1225.26,98.84 1227.18,97.57 1229.11,96.35 1231.03,95.17 1232.95,94.03 1234.88,92.93 1236.8,91.86 1238.73,90.82 1240.65,89.82 1242.57,88.84 1244.5,87.89 1246.42,86.97 1248.35,86.07 1250.27,85.19 1252.19,84.34 1254.12,83.51 1256.04,82.69 1257.97,81.89 1259.89,81.12 1261.81,80.35 1263.74,79.61 1265.66,78.88 1267.59,78.16 1269.51,77.46 1271.43,76.77 1273.36,76.1 1275.28,75.43 1277.21,74.78 1279.13,74.14 1281.05,73.52 1282.98,72.9 1284.9,72.29 1286.83,71.69 1288.75,71.11 1290.67,70.53 1293.24,69.77 1295.8,69.03 1298.37,68.3 1300.93,67.59 1303.5,66.89 1306.07,66.21 1308.63,65.53 1311.2,64.87 1313.76,64.22 1316.33,63.58 1318.89,62.96 1321.46,62.34 1324.02,61.73 1326.59,61.14 1329.15,60.55 1331.72,59.97 1334.28,59.4 1336.85,58.84 1339.42,58.29 1341.98,57.75 1344.55,57.21 1347.11,56.68 1349.68,56.16 1352.24,55.65 1354.81,55.14 1357.37,54.64 1359.94,54.15 1362.5,53.66 1365.07,53.18 1367.63,52.71 1370.2,52.24 1372.76,51.78 1375.33,51.32 1377.9,50.87 1380.46,50.43 1383.03,49.99 1385.59,49.55 1388.16,49.12 1390.72,48.7 1393.29,48.28 1395.85,47.86 1398.42,47.45 1400.98,47.04 1403.55,46.64 1406.11,46.24 1408.68,45.85 1411.24,45.46 1413.81,45.08 1416.38,44.69 1418.94,44.32 1421.51,43.94 1424.07,43.57 1426.64,43.21 1429.2,42.84 1431.77,42.49 1434.33,42.13 1436.9,41.78 1439.46,41.43 1442.03,41.08 1444.59,40.74 1447.16,40.4 1449.72,40.06 1452.29,39.73 1454.86,39.4 1457.42,39.07 1459.99,38.75 1462.55,38.43 1465.12,38.11 1467.68,37.79 1470.25,37.48 1472.81,37.17 1475.38,36.86 1477.94,36.55 1480.51,36.25 1483.07,35.95 1485.64,35.65 1488.21,35.35 1490.77,35.06 1493.34,34.77 1495.9,34.48 1498.47,34.19 1501.03,33.91 1503.6,33.62 1506.16,33.34 1508.73,33.06 1511.29,32.79 1513.86,32.51 1516.42,32.24 1518.99,31.97 1521.55,31.7 1524.12,31.44 1526.69,31.17 1529.25,30.91 1531.82,30.65 1534.38,30.39 1536.95,30.13 1539.51,29.88 1542.08,29.63 1544.64,29.38 1547.21,29.14 1549.77,28.89 1552.34,28.65 1554.9,28.41 1557.47,28.17 1560.03,27.94 1562.6,27.7 1565.17,27.47 1567.73,27.24 1570.3,27.01 1572.86,26.78 1575.43,26.55 1577.99,26.33 1580.56,26.1 1583.12,25.88 1585.69,25.66 1588.25,25.44 1590.82,25.22 1593.38,25 1595.95,24.78 1598.52,24.57 1601.08,24.36 1603.65,24.14 1606.21,23.93 1608.78,23.72 1611.34,23.51 1613.91,23.31 1616.47,23.1 1619.04,22.9 1621.6,22.69 1624.17,22.49 1626.73,22.29 1629.3,22.09 1631.86,21.89 1634.43,21.69 1637,21.49 1639.56,21.3 1642.13,21.1 1644.69,20.91 1647.26,20.72 1649.82,20.53 1652.39,20.33 1654.95,20.15 1657.52,19.96 1660.08,19.77 1662.65,19.58 1665.21,19.4 1667.78,19.21 1670.34,19.03 1672.91,18.85 1675.48,18.67 1678.04,18.49 1680.61,18.31 1683.17,18.13 1685.74,17.95 1688.3,17.77 1690.87,17.6 1693.43,17.42 1696,17.25 1698.56,17.07 1701.13,16.9 1703.69,16.73 1706.26,16.56 1708.83,16.39 1711.39,16.22 1713.96,16.05 1716.52,15.88 1719.09,15.71 1721.65,15.54 1724.22,15.37 1724.86,15.32"/>
<polyline fill="none" stroke="#00f" stroke-width="2.8" stroke-linejoin="round" points="1119.44,635.61 1120.08,629.5 1120.72,623.43 1121.36,617.41 1122,611.43 1122.64,605.49 1123.28,599.6 1123.93,593.75 1124.57,587.94 1125.21,582.17 1125.85,576.44 1126.49,570.75 1127.13,565.11 1127.77,559.51 1128.42,553.95 1129.06,548.44 1129.7,542.96 1130.34,537.53 1130.98,532.13 1131.62,526.78 1132.26,521.47 1132.9,516.21 1133.55,510.98 1134.19,505.79 1134.83,500.65 1135.47,495.55 1136.11,490.48 1136.75,485.46 1137.39,480.48 1138.04,475.54 1138.68,470.64 1139.32,465.78 1139.96,460.97 1140.6,456.19 1141.24,451.45 1141.88,446.76 1142.52,442.1 1143.17,437.48 1143.81,432.91 1144.45,428.37 1145.09,423.87 1145.73,419.42 1146.37,415 1147.01,410.62 1147.66,406.28 1148.3,401.98 1148.94,397.72 1149.58,393.5 1150.22,389.32 1150.86,385.18 1151.5,381.07 1152.14,377.01 1152.79,372.98 1153.43,368.99 1154.07,365.04 1154.71,361.13 1155.35,357.26 1155.99,353.42 1156.63,349.63 1157.28,345.87 1157.92,342.14 1158.56,338.46 1159.2,334.81 1159.84,331.2 1160.48,327.63 1161.12,324.1 1161.76,320.6 1162.41,317.13 1163.05,313.71 1163.69,310.32 1164.33,306.97 1164.97,303.65 1165.61,300.37 1166.25,297.13 1166.9,293.92 1167.54,290.75 1168.18,287.61 1168.82,284.51 1169.46,281.44 1170.1,278.41 1170.74,275.41 1171.38,272.45 1172.03,269.52 1172.67,266.63 1173.31,263.77 1173.95,260.94 1174.59,258.15 1175.23,255.39 1175.87,252.67 1176.52,249.98 1177.16,247.32 1177.8,244.7 1178.44,242.1 1179.08,239.54 1179.72,237.01 1180.36,234.52 1181,232.06 1181.65,229.62 1182.29,227.22 1182.93,224.85 1183.57,222.52 1184.21,220.21 1184.85,217.93 1185.49,215.69 1186.14,213.47 1186.78,211.29 1187.42,209.13 1188.06,207 1188.7,204.91 1189.34,202.84 1189.98,200.8 1190.62,198.79 1191.27,196.81 1191.91,194.86 1192.55,192.93 1193.19,191.03 1193.83,189.17 1195.11,185.51 1196.4,181.96 1197.68,178.51 1198.96,175.17 1200.24,171.93 1201.53,168.78 1202.81,165.74 1204.09,162.78 1205.38,159.92 1206.66,157.16 1207.94,154.47 1209.22,151.88 1210.51,149.37 1211.79,146.94 1213.07,144.59 1214.35,142.32 1215.64,140.12 1216.92,137.99 1218.2,135.93 1219.49,133.95 1220.77,132.03 1222.05,130.17 1223.33,128.37 1224.62,126.64 1225.9,124.96 1227.18,123.33 1228.46,121.76 1229.75,120.24 1231.03,118.77 1232.31,117.35 1233.59,115.97 1234.88,114.64 1236.16,113.35 1237.44,112.1 1239.37,110.29 1241.29,108.57 1243.21,106.92 1245.14,105.34 1247.06,103.83 1248.99,102.38 1250.91,100.99 1252.83,99.65 1254.76,98.36 1256.68,97.12 1258.61,95.92 1260.53,94.77 1262.45,93.65 1264.38,92.57 1266.3,91.52 1268.23,90.5 1270.15,89.52 1272.07,88.56 1274,87.62 1275.92,86.71 1277.85,85.83 1279.77,84.97 1281.69,84.12 1283.62,83.3 1285.54,82.5 1287.47,81.71 1289.39,80.94 1291.31,80.19 1293.24,79.45 1295.16,78.73 1297.09,78.03 1299.01,77.33 1300.93,76.65 1302.86,75.98 1304.78,75.33 1306.71,74.68 1308.63,74.05 1310.55,73.43 1312.48,72.82 1314.4,72.22 1316.33,71.63 1318.25,71.04 1320.82,70.28 1323.38,69.54 1325.95,68.8 1328.51,68.09 1331.08,67.38 1333.64,66.7 1336.21,66.02 1338.77,65.35 1341.34,64.7 1343.9,64.06 1346.47,63.43 1349.04,62.81 1351.6,62.2 1354.17,61.6 1356.73,61.01 1359.3,60.43 1361.86,59.86 1364.43,59.29 1366.99,58.74 1369.56,58.19 1372.12,57.66 1374.69,57.12 1377.25,56.6 1379.82,56.09 1382.38,55.58 1384.95,55.08 1387.52,54.58 1390.08,54.09 1392.65,53.61 1395.21,53.13 1397.78,52.66 1400.34,52.2 1402.91,51.74 1405.47,51.29 1408.04,50.84 1410.6,50.4 1413.17,49.96 1415.73,49.53 1418.3,49.11 1420.86,48.68 1423.43,48.27 1426,47.85 1428.56,47.45 1431.13,47.04 1433.69,46.64 1436.26,46.25 1438.82,45.86 1441.39,45.47 1443.95,45.09 1446.52,44.71 1449.08,44.34 1451.65,43.97 1454.21,43.6 1456.78,43.23 1459.35,42.87 1461.91,42.52 1464.48,42.16 1467.04,41.81 1469.61,41.47 1472.17,41.12 1474.74,40.78 1477.3,40.45 1479.87,40.11 1482.43,39.78 1485,39.45 1487.56,39.13 1490.13,38.8 1492.69,38.48 1495.26,38.17 1497.83,37.85 1500.39,37.54 1502.96,37.23 1505.52,36.92 1508.09,36.62 1510.65,36.32 1513.22,36.02 1515.78,35.72 1518.35,35.43 1520.91,35.13 1523.48,34.84 1526.04,34.56 1528.61,34.27 1531.17,33.99 1533.74,33.71 1536.31,33.43 1538.87,33.15 1541.44,32.89 1544,32.64 1546.57,32.39 1549.13,32.14 1551.7,31.89 1554.26,31.65 1556.83,31.41 1559.39,31.17 1561.96,30.93 1564.52,30.7 1567.09,30.46 1569.65,30.23 1572.22,30 1574.79,29.77 1577.35,29.54 1579.92,29.32 1582.48,29.09 1585.05,28.87 1587.61,28.65 1590.18,28.43 1592.74,28.21 1595.31,28 1597.87,27.78 1600.44,27.57 1603,27.36 1605.57,27.14 1608.14,26.94 1610.7,26.73 1613.27,26.52 1615.83,26.32 1618.4,26.11 1620.96,25.91 1623.53,25.71 1626.09,25.51 1628.66,25.31 1631.22,25.12 1633.79,24.92 1636.35,24.73 1638.92,24.54 1641.48,24.34 1644.05,24.15 1646.62,23.96 1649.18,23.78 1651.75,23.59 1654.31,23.4 1656.88,23.22 1659.44,23.03 1662.01,22.85 1664.57,22.67 1667.14,22.49 1669.7,22.31 1672.27,22.13 1674.83,21.96 1677.4,21.78 1679.96,21.61 1682.53,21.43 1685.1,21.26 1687.66,21.09 1690.23,20.92 1692.79,20.75 1695.36,20.58 1697.92,20.41 1700.49,20.24 1703.05,20.08 1705.62,19.91 1708.18,19.75 1710.75,19.59 1713.31,19.42 1715.88,19.26 1718.45,19.09 1721.01,18.91 1723.58,18.73 1724.86,18.64"/>
<polyline fill="none" stroke="#00f" stroke-width="2.8" stroke-linejoin="round" points="1148.94,639.52 1149.58,633.49 1150.22,627.5 1150.86,621.55 1151.5,615.64 1152.14,609.78 1152.79,603.95 1153.43,598.17 1154.07,592.42 1154.71,586.72 1155.35,581.06 1155.99,575.43 1156.63,569.85 1157.28,564.31 1157.92,558.81 1158.56,553.35 1159.2,547.93 1159.84,542.54 1160.48,537.2 1161.12,531.9 1161.76,526.64 1162.41,521.42 1163.05,516.24 1163.69,511.1 1164.33,506 1164.97,500.94 1165.61,495.91 1166.25,490.93 1166.9,485.99 1167.54,481.09 1168.18,476.22 1168.82,471.39 1169.46,466.61 1170.1,461.86 1170.74,457.15 1171.38,452.48 1172.03,447.85 1172.67,443.26 1173.31,438.71 1173.95,434.19 1174.59,429.72 1175.23,425.28 1175.87,420.88 1176.52,416.52 1177.16,412.2 1177.8,407.91 1178.44,403.66 1179.08,399.45 1179.72,395.28 1180.36,391.15 1181,387.05 1181.65,382.99 1182.29,378.97 1182.93,374.99 1183.57,371.04 1184.21,367.13 1184.85,363.26 1185.49,359.42 1186.14,355.62 1186.78,351.86 1187.42,348.13 1188.06,344.44 1188.7,340.79 1189.34,337.17 1189.98,333.59 1190.62,330.05 1191.27,326.54 1191.91,323.06 1192.55,319.62 1193.19,316.22 1193.83,312.85 1194.47,309.52 1195.11,306.22 1195.76,302.96 1196.4,299.73 1197.04,296.54 1197.68,293.38 1198.32,290.25 1198.96,287.16 1199.6,284.11 1200.24,281.09 1200.89,278.1 1201.53,275.14 1202.17,272.22 1202.81,269.33 1203.45,266.48 1204.09,263.66 1204.73,260.86 1205.38,258.11 1206.02,255.38 1206.66,252.69 1207.3,250.03 1207.94,247.4 1208.58,244.81 1209.22,242.24 1209.86,239.71 1210.51,237.21 1211.15,234.74 1211.79,232.3 1212.43,229.89 1213.07,227.51 1213.71,225.16 1214.35,222.84 1215,220.55 1215.64,218.3 1216.28,216.07 1216.92,213.87 1217.56,211.7 1218.2,209.56 1218.84,207.44 1219.49,205.36 1220.13,203.3 1220.77,201.27 1221.41,199.27 1222.05,197.3 1222.69,195.36 1223.33,193.44 1223.97,191.55 1224.62,189.68 1225.9,186.03 1227.18,182.49 1228.46,179.04 1229.75,175.7 1231.03,172.46 1232.31,169.31 1233.59,166.26 1234.88,163.3 1236.16,160.43 1237.44,157.65 1238.73,154.95 1240.01,152.34 1241.29,149.81 1242.57,147.36 1243.86,144.99 1245.14,142.7 1246.42,140.48 1247.7,138.33 1248.99,136.25 1250.27,134.24 1251.55,132.29 1252.83,130.41 1254.12,128.59 1255.4,126.83 1256.68,125.12 1257.97,123.47 1259.25,121.88 1260.53,120.33 1261.81,118.84 1263.1,117.39 1264.38,115.99 1265.66,114.63 1266.94,113.32 1268.23,112.04 1269.51,110.81 1271.43,109.02 1273.36,107.32 1275.28,105.69 1277.21,104.12 1279.13,102.63 1281.05,101.19 1282.98,99.81 1284.9,98.48 1286.83,97.21 1288.75,95.97 1290.67,94.79 1292.6,93.64 1294.52,92.53 1296.45,91.45 1298.37,90.41 1300.29,89.4 1302.22,88.42 1304.14,87.46 1306.07,86.53 1307.99,85.63 1309.91,84.75 1311.84,83.89 1313.76,83.05 1315.69,82.24 1317.61,81.44 1319.53,80.65 1321.46,79.89 1323.38,79.14 1325.31,78.41 1327.23,77.69 1329.15,76.99 1331.08,76.3 1333,75.62 1334.93,74.95 1336.85,74.3 1338.77,73.66 1340.7,73.03 1342.62,72.41 1344.55,71.8 1346.47,71.2 1348.39,70.61 1350.32,70.03 1352.88,69.28 1355.45,68.53 1358.01,67.8 1360.58,67.09 1363.14,66.39 1365.71,65.7 1368.28,65.03 1370.84,64.37 1373.41,63.72 1375.97,63.08 1378.54,62.45 1381.1,61.83 1383.67,61.22 1386.23,60.63 1388.8,60.04 1391.36,59.46 1393.93,58.89 1396.49,58.33 1399.06,57.78 1401.62,57.23 1404.19,56.69 1406.76,56.16 1409.32,55.64 1411.89,55.13 1414.45,54.62 1417.02,54.12 1419.58,53.63 1422.15,53.14 1424.71,52.66 1427.28,52.19 1429.84,51.72 1432.41,51.25 1434.97,50.8 1437.54,50.35 1440.1,49.9 1442.67,49.46 1445.24,49.02 1447.8,48.59 1450.37,48.17 1452.93,47.75 1455.5,47.33 1458.06,46.92 1460.63,46.51 1463.19,46.11 1465.76,45.71 1468.32,45.32 1470.89,44.93 1473.45,44.54 1476.02,44.16 1478.59,43.78 1481.15,43.41 1483.72,43.04 1486.28,42.67 1488.85,42.31 1491.41,41.95 1493.98,41.59 1496.54,41.24 1499.11,40.89 1501.67,40.55 1504.24,40.2 1506.8,39.86 1509.37,39.53 1511.93,39.19 1514.5,38.86 1517.07,38.54 1519.63,38.21 1522.2,37.89 1524.76,37.57 1527.33,37.25 1529.89,36.94 1532.46,36.63 1535.02,36.32 1537.59,36.01 1540.15,35.71 1542.72,35.45 1545.28,35.2 1547.85,34.95 1550.41,34.7 1552.98,34.45 1555.55,34.21 1558.11,33.97 1560.68,33.73 1563.24,33.49 1565.81,33.25 1568.37,33.02 1570.94,32.79 1573.5,32.56 1576.07,32.33 1578.63,32.11 1581.2,31.88 1583.76,31.66 1586.33,31.44 1588.9,31.22 1591.46,31.01 1594.03,30.79 1596.59,30.58 1599.16,30.37 1601.72,30.16 1604.29,29.95 1606.85,29.75 1609.42,29.54 1611.98,29.34 1614.55,29.14 1617.11,28.94 1619.68,28.74 1622.24,28.55 1624.81,28.35 1627.38,28.16 1629.94,27.97 1632.51,27.78 1635.07,27.59 1637.64,27.41 1640.2,27.22 1642.77,27.04 1645.33,26.85 1647.9,26.67 1650.46,26.49 1653.03,26.31 1655.59,26.14 1658.16,25.96 1660.72,25.79 1663.29,25.61 1665.86,25.44 1668.42,25.27 1670.99,25.1 1673.55,24.93 1676.12,24.77 1678.68,24.6 1681.25,24.44 1683.81,24.27 1686.38,24.11 1688.94,23.95 1691.51,23.79 1694.07,23.63 1696.64,23.47 1699.21,23.32 1701.77,23.16 1704.34,23.01 1706.9,22.85 1709.47,22.7 1712.03,22.55 1714.6,22.4 1717.16,22.24 1719.73,22.05 1722.29,21.86 1724.86,21.67 1724.86,21.67"/>
<polyline fill="none" stroke="#00f" stroke-width="2.8" stroke-linejoin="round" points="1181.65,635.48 1182.29,629.42 1182.93,623.39 1183.57,617.41 1184.21,611.47 1184.85,605.57 1185.49,599.71 1186.14,593.9 1186.78,588.12 1187.42,582.39 1188.06,576.7 1188.7,571.05 1189.34,565.44 1189.98,559.87 1190.62,554.35 1191.27,548.86 1191.91,543.42 1192.55,538.02 1193.19,532.65 1193.83,527.33 1194.47,522.05 1195.11,516.81 1195.76,511.62 1196.4,506.46 1197.04,501.34 1197.68,496.26 1198.32,491.23 1198.96,486.23 1199.6,481.27 1200.24,476.36 1200.89,471.48 1201.53,466.65 1202.17,461.85 1202.81,457.09 1203.45,452.38 1204.09,447.7 1204.73,443.06 1205.38,438.46 1206.02,433.91 1206.66,429.39 1207.3,424.91 1207.94,420.47 1208.58,416.07 1209.22,411.7 1209.86,407.38 1210.51,403.09 1211.15,398.85 1211.79,394.64 1212.43,390.47 1213.07,386.34 1213.71,382.25 1214.35,378.2 1215,374.18 1215.64,370.2 1216.28,366.26 1216.92,362.36 1217.56,358.49 1218.2,354.66 1218.84,350.88 1219.49,347.12 1220.13,343.41 1220.77,339.73 1221.41,336.09 1222.05,332.48 1222.69,328.91 1223.33,325.38 1223.97,321.89 1224.62,318.43 1225.26,315.01 1225.9,311.62 1226.54,308.27 1227.18,304.95 1227.82,301.67 1228.46,298.43 1229.11,295.22 1229.75,292.05 1230.39,288.91 1231.03,285.8 1231.67,282.73 1232.31,279.7 1232.95,276.7 1233.59,273.73 1234.24,270.8 1234.88,267.9 1235.52,265.04 1236.16,262.21 1236.8,259.41 1237.44,256.65 1238.08,253.92 1238.73,251.22 1239.37,248.56 1240.01,245.92 1240.65,243.32 1241.29,240.75 1241.93,238.22 1242.57,235.72 1243.21,233.24 1243.86,230.8 1244.5,228.39 1245.14,226.01 1245.78,223.66 1246.42,221.35 1247.06,219.06 1247.7,216.8 1248.35,214.58 1248.99,212.38 1249.63,210.21 1250.27,208.07 1250.91,205.96 1251.55,203.89 1252.19,201.83 1252.83,199.81 1253.48,197.82 1254.12,195.85 1254.76,193.91 1255.4,192 1256.04,190.12 1257.32,186.43 1258.61,182.85 1259.89,179.37 1261.17,176 1262.45,172.73 1263.74,169.55 1265.02,166.48 1266.3,163.49 1267.59,160.6 1268.87,157.8 1270.15,155.09 1271.43,152.46 1272.72,149.92 1274,147.46 1275.28,145.08 1276.56,142.77 1277.85,140.54 1279.13,138.39 1280.41,136.3 1281.69,134.28 1282.98,132.33 1284.26,130.45 1285.54,128.62 1286.83,126.86 1288.11,125.15 1289.39,123.5 1290.67,121.9 1291.96,120.36 1293.24,118.86 1294.52,117.42 1295.8,116.01 1297.09,114.66 1298.37,113.35 1299.65,112.07 1300.93,110.84 1302.86,109.06 1304.78,107.36 1306.71,105.73 1308.63,104.17 1310.55,102.68 1312.48,101.25 1314.4,99.87 1316.33,98.55 1318.25,97.27 1320.17,96.04 1322.1,94.86 1324.02,93.71 1325.95,92.61 1327.87,91.53 1329.79,90.49 1331.72,89.49 1333.64,88.51 1335.57,87.55 1337.49,86.63 1339.42,85.73 1341.34,84.85 1343.26,83.99 1345.19,83.15 1347.11,82.34 1349.04,81.54 1350.96,80.76 1352.88,79.99 1354.81,79.25 1356.73,78.51 1358.66,77.8 1360.58,77.09 1362.5,76.4 1364.43,75.73 1366.35,75.06 1368.28,74.41 1370.2,73.77 1372.12,73.14 1374.05,72.52 1375.97,71.91 1377.9,71.31 1379.82,70.73 1381.74,70.15 1384.31,69.39 1386.87,68.65 1389.44,67.92 1392,67.21 1394.57,66.51 1397.14,65.82 1399.7,65.14 1402.27,64.48 1404.83,63.83 1407.4,63.19 1409.96,62.57 1412.53,61.95 1415.09,61.34 1417.66,60.74 1420.22,60.16 1422.79,59.58 1425.35,59.01 1427.92,58.45 1430.48,57.89 1433.05,57.35 1435.62,56.81 1438.18,56.28 1440.75,55.76 1443.31,55.25 1445.88,54.74 1448.44,54.24 1451.01,53.75 1453.57,53.26 1456.14,52.78 1458.7,52.31 1461.27,51.84 1463.83,51.37 1466.4,50.92 1468.97,50.47 1471.53,50.02 1474.1,49.58 1476.66,49.14 1479.23,48.71 1481.79,48.29 1484.36,47.87 1486.92,47.45 1489.49,47.04 1492.05,46.63 1494.62,46.23 1497.18,45.83 1499.75,45.44 1502.31,45.05 1504.88,44.67 1507.45,44.28 1510.01,43.91 1512.58,43.53 1515.14,43.16 1517.71,42.8 1520.27,42.43 1522.84,42.07 1525.4,41.72 1527.97,41.36 1530.53,41.02 1533.1,40.67 1535.66,40.33 1538.23,39.99 1540.79,39.67 1543.36,39.39 1545.93,39.12 1548.49,38.85 1551.06,38.59 1553.62,38.33 1556.19,38.07 1558.75,37.81 1561.32,37.56 1563.88,37.3 1566.45,37.05 1569.01,36.81 1571.58,36.56 1574.14,36.32 1576.71,36.08 1579.28,35.85 1581.84,35.61 1584.41,35.38 1586.97,35.15 1589.54,34.92 1592.1,34.7 1594.67,34.47 1597.23,34.25 1599.8,34.03 1602.36,33.82 1604.93,33.6 1607.49,33.39 1610.06,33.18 1612.62,32.97 1615.19,32.76 1617.76,32.55 1620.32,32.35 1622.89,32.15 1625.45,31.95 1628.02,31.75 1630.58,31.56 1633.15,31.36 1635.71,31.17 1638.28,30.98 1640.84,30.79 1643.41,30.6 1645.97,30.41 1648.54,30.23 1651.1,30.05 1653.67,29.87 1656.24,29.69 1658.8,29.51 1661.37,29.33 1663.93,29.16 1666.5,28.98 1669.06,28.81 1671.63,28.64 1674.19,28.47 1676.76,28.3 1679.32,28.14 1681.89,27.97 1684.45,27.81 1687.02,27.64 1689.58,27.48 1692.15,27.32 1694.72,27.16 1697.28,27.01 1699.85,26.85 1702.41,26.7 1704.98,26.54 1707.54,26.39 1710.11,26.24 1712.67,26.09 1715.24,25.94 1717.8,25.77 1720.37,25.56 1722.93,25.36 1724.86,25.2"/>
<polyline fill="none" stroke="#00f" stroke-width="2.8" stroke-linejoin="round" points="1216.92,634.98 1217.56,628.87 1218.2,622.8 1218.84,616.78 1219.49,610.8 1220.13,604.86 1220.77,598.96 1221.41,593.1 1222.05,587.29 1222.69,581.52 1223.33,575.79 1223.97,570.11 1224.62,564.46 1225.26,558.86 1225.9,553.3 1226.54,547.78 1227.18,542.31 1227.82,536.87 1228.46,531.48 1229.11,526.13 1229.75,520.82 1230.39,515.56 1231.03,510.33 1231.67,505.14 1232.31,500 1232.95,494.9 1233.59,489.84 1234.24,484.82 1234.88,479.84 1235.52,474.9 1236.16,470 1236.8,465.14 1237.44,460.33 1238.08,455.55 1238.73,450.82 1239.37,446.12 1240.01,441.47 1240.65,436.85 1241.29,432.28 1241.93,427.75 1242.57,423.25 1243.21,418.8 1243.86,414.38 1244.5,410.01 1245.14,405.68 1245.78,401.38 1246.42,397.12 1247.06,392.91 1247.7,388.73 1248.35,384.59 1248.99,380.49 1249.63,376.43 1250.27,372.41 1250.91,368.42 1251.55,364.48 1252.19,360.57 1252.83,356.7 1253.48,352.87 1254.12,349.08 1254.76,345.33 1255.4,341.61 1256.04,337.93 1256.68,334.29 1257.32,330.69 1257.97,327.12 1258.61,323.59 1259.25,320.1 1259.89,316.64 1260.53,313.22 1261.17,309.84 1261.81,306.49 1262.45,303.18 1263.1,299.91 1263.74,296.67 1264.38,293.47 1265.02,290.31 1265.66,287.18 1266.3,284.08 1266.94,281.02 1267.59,278 1268.23,275.01 1268.87,272.05 1269.51,269.13 1270.15,266.25 1270.79,263.39 1271.43,260.58 1272.07,257.79 1272.72,255.04 1273.36,252.33 1274,249.64 1274.64,246.99 1275.28,244.37 1275.92,241.79 1276.56,239.24 1277.21,236.72 1277.85,234.23 1278.49,231.78 1279.13,229.35 1279.77,226.96 1280.41,224.6 1281.05,222.27 1281.69,219.97 1282.34,217.71 1282.98,215.47 1283.62,213.26 1284.26,211.08 1284.9,208.94 1285.54,206.82 1286.18,204.73 1286.83,202.67 1287.47,200.64 1288.11,198.64 1288.75,196.67 1289.39,194.73 1290.03,192.81 1290.67,190.92 1291.31,189.06 1292.6,185.42 1293.88,181.89 1295.16,178.46 1296.45,175.13 1297.73,171.91 1299.01,168.78 1300.29,165.75 1301.58,162.82 1302.86,159.97 1304.14,157.22 1305.42,154.56 1306.71,151.98 1307.99,149.48 1309.27,147.07 1310.55,144.74 1311.84,142.48 1313.12,140.29 1314.4,138.18 1315.69,136.14 1316.97,134.17 1318.25,132.26 1319.53,130.41 1320.82,128.63 1322.1,126.91 1323.38,125.24 1324.66,123.63 1325.95,122.07 1327.23,120.56 1328.51,119.1 1329.79,117.69 1331.08,116.32 1332.36,115 1333.64,113.72 1334.93,112.48 1336.85,110.68 1338.77,108.97 1340.7,107.34 1342.62,105.77 1344.55,104.27 1346.47,102.83 1348.39,101.45 1350.32,100.12 1352.24,98.84 1354.17,97.6 1356.09,96.41 1358.01,95.26 1359.94,94.15 1361.86,93.07 1363.79,92.03 1365.71,91.02 1367.63,90.04 1369.56,89.08 1371.48,88.15 1373.41,87.25 1375.33,86.37 1377.25,85.51 1379.18,84.67 1381.1,83.85 1383.03,83.05 1384.95,82.26 1386.87,81.5 1388.8,80.75 1390.72,80.01 1392.65,79.3 1394.57,78.59 1396.49,77.9 1398.42,77.22 1400.34,76.55 1402.27,75.9 1404.19,75.26 1406.11,74.63 1408.04,74.01 1409.96,73.4 1411.89,72.8 1413.81,72.21 1415.73,71.63 1418.3,70.87 1420.86,70.12 1423.43,69.39 1426,68.68 1428.56,67.98 1431.13,67.29 1433.69,66.61 1436.26,65.95 1438.82,65.3 1441.39,64.66 1443.95,64.03 1446.52,63.41 1449.08,62.8 1451.65,62.2 1454.21,61.61 1456.78,61.04 1459.35,60.46 1461.91,59.9 1464.48,59.35 1467.04,58.8 1469.61,58.27 1472.17,57.74 1474.74,57.21 1477.3,56.7 1479.87,56.19 1482.43,55.69 1485,55.2 1487.56,54.71 1490.13,54.23 1492.69,53.75 1495.26,53.28 1497.83,52.82 1500.39,52.36 1502.96,51.91 1505.52,51.46 1508.09,51.02 1510.65,50.59 1513.22,50.16 1515.78,49.73 1518.35,49.31 1520.91,48.89 1523.48,48.48 1526.04,48.07 1528.61,47.67 1531.17,47.27 1533.74,46.88 1536.31,46.49 1538.87,46.1 1541.44,45.75 1544,45.43 1546.57,45.12 1549.13,44.8 1551.7,44.49 1554.26,44.19 1556.83,43.89 1559.39,43.59 1561.96,43.29 1564.52,43 1567.09,42.71 1569.65,42.43 1572.22,42.15 1574.79,41.87 1577.35,41.59 1579.92,41.32 1582.48,41.05 1585.05,40.78 1587.61,40.52 1590.18,40.25 1592.74,40 1595.31,39.74 1597.87,39.49 1600.44,39.24 1603,38.99 1605.57,38.74 1608.14,38.5 1610.7,38.26 1613.27,38.02 1615.83,37.78 1618.4,37.55 1620.96,37.32 1623.53,37.09 1626.09,36.86 1628.66,36.63 1631.22,36.41 1633.79,36.19 1636.35,35.97 1638.92,35.75 1641.48,35.54 1644.05,35.33 1646.62,35.12 1649.18,34.91 1651.75,34.7 1654.31,34.5 1656.88,34.29 1659.44,34.09 1662.01,33.89 1664.57,33.69 1667.14,33.5 1669.7,33.3 1672.27,33.11 1674.83,32.92 1677.4,32.73 1679.96,32.54 1682.53,32.36 1685.1,32.17 1687.66,31.99 1690.23,31.81 1692.79,31.63 1695.36,31.45 1697.92,31.27 1700.49,31.1 1703.05,30.92 1705.62,30.75 1708.18,30.58 1710.75,30.41 1713.31,30.24 1715.88,30.08 1718.45,29.87 1721.01,29.65 1723.58,29.43 1724.86,29.32"/>
<polyline fill="none" stroke="#00f" stroke-width="2.8" stroke-linejoin="round" points="1254.12,638.53 1254.76,632.49 1255.4,626.49 1256.04,620.54 1256.68,614.62 1257.32,608.75 1257.97,602.92 1258.61,597.13 1259.25,591.38 1259.89,585.67 1260.53,580.01 1261.17,574.38 1261.81,568.8 1262.45,563.26 1263.1,557.75 1263.74,552.29 1264.38,546.87 1265.02,541.49 1265.66,536.15 1266.3,530.86 1266.94,525.6 1267.59,520.38 1268.23,515.2 1268.87,510.06 1269.51,504.97 1270.15,499.91 1270.79,494.89 1271.43,489.92 1272.07,484.98 1272.72,480.08 1273.36,475.23 1274,470.41 1274.64,465.63 1275.28,460.89 1275.92,456.2 1276.56,451.54 1277.21,446.92 1277.85,442.33 1278.49,437.79 1279.13,433.29 1279.77,428.83 1280.41,424.4 1281.05,420.01 1281.69,415.67 1282.34,411.36 1282.98,407.09 1283.62,402.86 1284.26,398.66 1284.9,394.51 1285.54,390.39 1286.18,386.31 1286.83,382.27 1287.47,378.27 1288.11,374.3 1288.75,370.37 1289.39,366.48 1290.03,362.63 1290.67,358.81 1291.31,355.03 1291.96,351.29 1292.6,347.59 1293.24,343.92 1293.88,340.29 1294.52,336.69 1295.16,333.13 1295.8,329.61 1296.45,326.12 1297.09,322.67 1297.73,319.26 1298.37,315.88 1299.01,312.54 1299.65,309.23 1300.29,305.96 1300.93,302.72 1301.58,299.52 1302.22,296.35 1302.86,293.22 1303.5,290.12 1304.14,287.05 1304.78,284.03 1305.42,281.03 1306.07,278.07 1306.71,275.14 1307.35,272.25 1307.99,269.39 1308.63,266.56 1309.27,263.77 1309.91,261.01 1310.55,258.28 1311.2,255.59 1311.84,252.93 1312.48,250.3 1313.12,247.7 1313.76,245.14 1314.4,242.6 1315.04,240.1 1315.69,237.63 1316.33,235.19 1316.97,232.78 1317.61,230.4 1318.25,228.06 1318.89,225.74 1319.53,223.45 1320.17,221.2 1320.82,218.97 1321.46,216.78 1322.1,214.61 1322.74,212.47 1323.38,210.36 1324.02,208.28 1324.66,206.23 1325.31,204.21 1325.95,202.21 1326.59,200.24 1327.23,198.3 1327.87,196.39 1328.51,194.51 1329.79,190.82 1331.08,187.23 1332.36,183.75 1333.64,180.38 1334.93,177.1 1336.21,173.92 1337.49,170.84 1338.77,167.85 1340.06,164.95 1341.34,162.14 1342.62,159.42 1343.9,156.79 1345.19,154.24 1346.47,151.77 1347.75,149.38 1349.04,147.07 1350.32,144.83 1351.6,142.67 1352.88,140.57 1354.17,138.55 1355.45,136.59 1356.73,134.7 1358.01,132.86 1359.3,131.09 1360.58,129.38 1361.86,127.72 1363.14,126.11 1364.43,124.56 1365.71,123.06 1366.99,121.61 1368.28,120.2 1369.56,118.84 1370.84,117.51 1372.12,116.24 1373.41,115 1375.33,113.21 1377.25,111.5 1379.18,109.86 1381.1,108.29 1383.03,106.79 1384.95,105.35 1386.87,103.97 1388.8,102.64 1390.72,101.36 1392.65,100.13 1394.57,98.94 1396.49,97.79 1398.42,96.68 1400.34,95.6 1402.27,94.56 1404.19,93.54 1406.11,92.56 1408.04,91.6 1409.96,90.68 1411.89,89.77 1413.81,88.89 1415.73,88.03 1417.66,87.19 1419.58,86.37 1421.51,85.57 1423.43,84.79 1425.35,84.02 1427.28,83.27 1429.2,82.54 1431.13,81.82 1433.05,81.11 1434.97,80.42 1436.9,79.74 1438.82,79.08 1440.75,78.43 1442.67,77.78 1444.59,77.15 1446.52,76.53 1448.44,75.92 1450.37,75.32 1452.29,74.73 1454.21,74.15 1456.78,73.4 1459.35,72.65 1461.91,71.92 1464.48,71.21 1467.04,70.51 1469.61,69.82 1472.17,69.14 1474.74,68.48 1477.3,67.83 1479.87,67.19 1482.43,66.56 1485,65.94 1487.56,65.33 1490.13,64.74 1492.69,64.15 1495.26,63.57 1497.83,63 1500.39,62.44 1502.96,61.88 1505.52,61.34 1508.09,60.8 1510.65,60.27 1513.22,59.75 1515.78,59.23 1518.35,58.73 1520.91,58.23 1523.48,57.73 1526.04,57.25 1528.61,56.76 1531.17,56.29 1533.74,55.82 1536.31,55.36 1538.87,54.9 1541.44,54.44 1544,53.98 1546.57,53.53 1549.13,53.08 1551.7,52.64 1554.26,52.2 1556.83,51.77 1559.39,51.34 1561.96,50.92 1564.52,50.5 1567.09,50.09 1569.65,49.68 1572.22,49.27 1574.79,48.87 1577.35,48.47 1579.92,48.08 1582.48,47.69 1585.05,47.3 1587.61,46.92 1590.18,46.54 1592.74,46.17 1595.31,45.8 1597.87,45.43 1600.44,45.06 1603,44.7 1605.57,44.35 1608.14,43.99 1610.7,43.64 1613.27,43.29 1615.83,42.95 1618.4,42.6 1620.96,42.26 1623.53,41.93 1626.09,41.59 1628.66,41.26 1631.22,40.93 1633.79,40.61 1636.35,40.28 1638.92,39.96 1641.48,39.65 1644.05,39.33 1646.62,39.02 1649.18,38.71 1651.75,38.4 1654.31,38.09 1656.88,37.79 1659.44,37.49 1662.01,37.19 1664.57,36.89 1667.14,36.6 1669.7,36.31 1672.27,36.01 1674.83,35.73 1677.4,35.44 1679.96,35.16 1682.53,34.87 1685.1,34.59 1687.66,34.32 1690.23,34.04 1692.79,33.76 1695.36,33.49 1697.92,33.22 1700.49,32.95 1703.05,32.68 1705.62,32.42 1708.18,32.15 1710.75,31.89 1713.31,31.63 1715.88,31.37 1718.45,31.12 1721.01,30.88 1723.58,30.64 1724.86,30.52"/>
<polyline fill="none" stroke="#00f" stroke-width="2.8" stroke-linejoin="round" points="1297.73,639.45 1298.37,633.19 1299.01,626.96 1299.65,620.79 1300.29,614.65 1300.93,608.57 1301.58,602.52 1302.22,596.53 1302.86,590.57 1303.5,584.67 1304.14,578.81 1304.78,572.99 1305.42,567.21 1306.07,561.48 1306.71,555.8 1307.35,550.16 1307.99,544.56 1308.63,539.01 1309.27,533.51 1309.91,528.04 1310.55,522.62 1311.2,517.25 1311.84,511.92 1312.48,506.63 1313.12,501.39 1313.76,496.19 1314.4,491.03 1315.04,485.92 1315.69,480.85 1316.33,475.82 1316.97,470.84 1317.61,465.9 1318.25,461 1318.89,456.15 1319.53,451.34 1320.17,446.57 1320.82,441.84 1321.46,437.16 1322.1,432.52 1322.74,427.92 1323.38,423.36 1324.02,418.85 1324.66,414.38 1325.31,409.95 1325.95,405.56 1326.59,401.22 1327.23,396.91 1327.87,392.65 1328.51,388.42 1329.15,384.24 1329.79,380.1 1330.44,376.01 1331.08,371.95 1331.72,367.93 1332.36,363.95 1333,360.02 1333.64,356.12 1334.28,352.27 1334.93,348.45 1335.57,344.67 1336.21,340.94 1336.85,337.24 1337.49,333.59 1338.13,329.97 1338.77,326.39 1339.42,322.85 1340.06,319.35 1340.7,315.89 1341.34,312.47 1341.98,309.08 1342.62,305.74 1343.26,302.43 1343.9,299.16 1344.55,295.93 1345.19,292.73 1345.83,289.57 1346.47,286.45 1347.11,283.37 1347.75,280.32 1348.39,277.31 1349.04,274.34 1349.68,271.4 1350.32,268.5 1350.96,265.64 1351.6,262.81 1352.24,260.02 1352.88,257.26 1353.52,254.54 1354.17,251.85 1354.81,249.2 1355.45,246.58 1356.09,243.99 1356.73,241.44 1357.37,238.93 1358.01,236.44 1358.66,233.99 1359.3,231.58 1359.94,229.2 1360.58,226.84 1361.22,224.53 1361.86,222.24 1362.5,219.99 1363.14,217.77 1363.79,215.58 1364.43,213.42 1365.07,211.29 1365.71,209.19 1366.35,207.12 1366.99,205.09 1367.63,203.08 1368.28,201.11 1368.92,199.16 1369.56,197.24 1370.2,195.35 1370.84,193.49 1372.12,189.86 1373.41,186.33 1374.69,182.92 1375.97,179.61 1377.25,176.4 1378.54,173.3 1379.82,170.3 1381.1,167.4 1382.38,164.59 1383.67,161.87 1384.95,159.24 1386.23,156.7 1387.52,154.25 1388.8,151.88 1390.08,149.59 1391.36,147.38 1392.65,145.24 1393.93,143.18 1395.21,141.18 1396.49,139.26 1397.78,137.4 1399.06,135.6 1400.34,133.87 1401.62,132.19 1402.91,130.58 1404.19,129.01 1405.47,127.5 1406.76,126.04 1408.04,124.63 1409.32,123.26 1410.6,121.94 1411.89,120.66 1413.17,119.42 1415.09,117.63 1417.02,115.92 1418.94,114.29 1420.86,112.73 1422.79,111.24 1424.71,109.8 1426.64,108.43 1428.56,107.1 1430.48,105.83 1432.41,104.6 1434.33,103.42 1436.26,102.28 1438.18,101.17 1440.1,100.1 1442.03,99.06 1443.95,98.05 1445.88,97.07 1447.8,96.12 1449.72,95.19 1451.65,94.29 1453.57,93.41 1455.5,92.55 1457.42,91.72 1459.35,90.9 1461.27,90.1 1463.19,89.32 1465.12,88.56 1467.04,87.81 1468.97,87.07 1470.89,86.36 1472.81,85.65 1474.74,84.96 1476.66,84.28 1478.59,83.62 1480.51,82.96 1482.43,82.32 1484.36,81.69 1486.28,81.07 1488.21,80.46 1490.13,79.86 1492.05,79.28 1493.98,78.69 1496.54,77.94 1499.11,77.19 1501.67,76.46 1504.24,75.75 1506.8,75.05 1509.37,74.36 1511.93,73.68 1514.5,73.02 1517.07,72.37 1519.63,71.73 1522.2,71.1 1524.76,70.48 1527.33,69.87 1529.89,69.28 1532.46,68.69 1535.02,68.11 1537.59,67.54 1540.15,66.97 1542.72,66.42 1545.28,65.88 1547.85,65.34 1550.41,64.81 1552.98,64.29 1555.55,63.77 1558.11,63.26 1560.68,62.76 1563.24,62.27 1565.81,61.78 1568.37,61.3 1570.94,60.82 1573.5,60.36 1576.07,59.89 1578.63,59.43 1581.2,58.98 1583.76,58.54 1586.33,58.1 1588.9,57.66 1591.46,57.23 1594.03,56.8 1596.59,56.38 1599.16,55.96 1601.72,55.55 1604.29,55.15 1606.85,54.74 1609.42,54.34 1611.98,53.95 1614.55,53.56 1617.11,53.17 1619.68,52.79 1622.24,52.41 1624.81,52.04 1627.38,51.67 1629.94,51.3 1632.51,50.94 1635.07,50.58 1637.64,50.22 1640.2,49.87 1642.77,49.52 1645.33,49.17 1647.9,48.83 1650.46,48.49 1653.03,48.15 1655.59,47.82 1658.16,47.49 1660.72,47.16 1663.29,46.83 1665.86,46.51 1668.42,46.19 1670.99,45.87 1673.55,45.56 1676.12,45.25 1678.68,44.94 1681.25,44.63 1683.81,44.33 1686.38,44.03 1688.94,43.73 1691.51,43.43 1694.07,43.14 1696.64,42.85 1699.21,42.56 1701.77,42.27 1704.34,41.98 1706.9,41.7 1709.47,41.42 1712.03,41.14 1714.6,40.86 1717.16,40.59 1719.73,40.32 1722.29,40.04 1724.86,39.78 1724.86,39.78"/>
<polyline fill="none" stroke="#00f" stroke-width="2.8" stroke-linejoin="round" points="1347.11,635.57 1347.75,629.45 1348.39,623.36 1349.04,617.32 1349.68,611.32 1350.32,605.37 1350.96,599.46 1351.6,593.59 1352.24,587.77 1352.88,581.99 1353.52,576.25 1354.17,570.55 1354.81,564.91 1355.45,559.3 1356.09,553.73 1356.73,548.21 1357.37,542.73 1358.01,537.29 1358.66,531.9 1359.3,526.55 1359.94,521.24 1360.58,515.97 1361.22,510.75 1361.86,505.57 1362.5,500.43 1363.14,495.33 1363.79,490.28 1364.43,485.26 1365.07,480.29 1365.71,475.37 1366.35,470.48 1366.99,465.63 1367.63,460.83 1368.28,456.06 1368.92,451.34 1369.56,446.66 1370.2,442.02 1370.84,437.43 1371.48,432.87 1372.12,428.35 1372.76,423.88 1373.41,419.44 1374.05,415.05 1374.69,410.7 1375.33,406.38 1375.97,402.11 1376.61,397.88 1377.25,393.69 1377.9,389.53 1378.54,385.42 1379.18,381.35 1379.82,377.31 1380.46,373.32 1381.1,369.37 1381.74,365.45 1382.38,361.58 1383.03,357.74 1383.67,353.94 1384.31,350.18 1384.95,346.46 1385.59,342.78 1386.23,339.13 1386.87,335.53 1387.52,331.96 1388.16,328.43 1388.8,324.94 1389.44,321.49 1390.08,318.07 1390.72,314.69 1391.36,311.35 1392,308.04 1392.65,304.77 1393.29,301.54 1393.93,298.35 1394.57,295.19 1395.21,292.07 1395.85,288.98 1396.49,285.93 1397.14,282.91 1397.78,279.94 1398.42,276.99 1399.06,274.08 1399.7,271.21 1400.34,268.37 1400.98,265.57 1401.62,262.8 1402.27,260.06 1402.91,257.36 1403.55,254.7 1404.19,252.06 1404.83,249.46 1405.47,246.9 1406.11,244.36 1406.76,241.86 1407.4,239.39 1408.04,236.96 1408.68,234.56 1409.32,232.19 1409.96,229.85 1410.6,227.54 1411.24,225.26 1411.89,223.02 1412.53,220.8 1413.17,218.62 1413.81,216.47 1414.45,214.35 1415.09,212.25 1415.73,210.19 1416.38,208.16 1417.02,206.15 1417.66,204.18 1418.3,202.23 1418.94,200.31 1419.58,198.42 1420.22,196.56 1421.51,192.92 1422.79,189.39 1424.07,185.97 1425.35,182.65 1426.64,179.43 1427.92,176.31 1429.2,173.29 1430.48,170.37 1431.77,167.54 1433.05,164.8 1434.33,162.15 1435.62,159.59 1436.9,157.11 1438.18,154.72 1439.46,152.4 1440.75,150.16 1442.03,147.99 1443.31,145.9 1444.59,143.88 1445.88,141.93 1447.16,140.04 1448.44,138.22 1449.72,136.45 1451.01,134.75 1452.29,133.1 1453.57,131.51 1454.86,129.97 1456.14,128.48 1457.42,127.04 1458.7,125.65 1459.99,124.3 1461.27,123 1462.55,121.73 1463.83,120.51 1465.76,118.74 1467.68,117.05 1469.61,115.44 1471.53,113.89 1473.45,112.41 1475.38,110.99 1477.3,109.63 1479.23,108.32 1481.15,107.05 1483.07,105.83 1485,104.66 1486.92,103.52 1488.85,102.42 1490.77,101.36 1492.69,100.33 1494.62,99.32 1496.54,98.35 1498.47,97.4 1500.39,96.48 1502.31,95.59 1504.24,94.71 1506.16,93.86 1508.09,93.03 1510.01,92.21 1511.93,91.42 1513.86,90.64 1515.78,89.88 1517.71,89.14 1519.63,88.41 1521.55,87.69 1523.48,86.99 1525.4,86.3 1527.33,85.63 1529.25,84.97 1531.17,84.32 1533.1,83.68 1535.02,83.05 1536.95,82.43 1538.87,81.83 1540.79,81.23 1542.72,80.64 1544.64,80.07 1547.21,79.31 1549.77,78.57 1552.34,77.84 1554.9,77.13 1557.47,76.43 1560.03,75.75 1562.6,75.07 1565.17,74.41 1567.73,73.76 1570.3,73.13 1572.86,72.5 1575.43,71.88 1577.99,71.28 1580.56,70.68 1583.12,70.09 1585.69,69.52 1588.25,68.95 1590.82,68.39 1593.38,67.84 1595.95,67.29 1598.52,66.76 1601.08,66.23 1603.65,65.71 1606.21,65.19 1608.78,64.69 1611.34,64.19 1613.91,63.7 1616.47,63.21 1619.04,62.73 1621.6,62.25 1624.17,61.79 1626.73,61.33 1629.3,60.87 1631.86,60.42 1634.43,59.97 1637,59.53 1639.56,59.1 1642.13,58.67 1644.69,58.24 1647.26,57.82 1649.82,57.41 1652.39,57 1654.95,56.59 1657.52,56.19 1660.08,55.79 1662.65,55.4 1665.21,55.01 1667.78,54.62 1670.34,54.24 1672.91,53.86 1675.48,53.49 1678.04,53.12 1680.61,52.75 1683.17,52.39 1685.74,52.03 1688.3,51.68 1690.87,51.32 1693.43,50.98 1696,50.63 1698.56,50.29 1701.13,49.95 1703.69,49.61 1706.26,49.28 1708.83,48.95 1711.39,48.62 1713.96,48.3 1716.52,47.97 1719.09,47.65 1721.65,47.34 1724.22,47.02 1724.86,46.95"/>
<polyline fill="none" stroke="#00f" stroke-width="2.8" stroke-linejoin="round" points="1408.04,638.59 1408.68,632.26 1409.32,625.97 1409.96,619.73 1410.6,613.54 1411.24,607.39 1411.89,601.29 1412.53,595.24 1413.17,589.23 1413.81,583.27 1414.45,577.36 1415.09,571.49 1415.73,565.67 1416.38,559.89 1417.02,554.17 1417.66,548.49 1418.3,542.85 1418.94,537.26 1419.58,531.72 1420.22,526.22 1420.86,520.76 1421.51,515.36 1422.15,510 1422.79,504.68 1423.43,499.41 1424.07,494.19 1424.71,489.01 1425.35,483.87 1426,478.78 1426.64,473.74 1427.28,468.74 1427.92,463.78 1428.56,458.87 1429.2,454.01 1429.84,449.18 1430.48,444.41 1431.13,439.67 1431.77,434.98 1432.41,430.34 1433.05,425.74 1433.69,421.18 1434.33,416.67 1434.97,412.2 1435.62,407.77 1436.26,403.39 1436.9,399.04 1437.54,394.75 1438.18,390.49 1438.82,386.28 1439.46,382.11 1440.1,377.99 1440.75,373.9 1441.39,369.86 1442.03,365.86 1442.67,361.9 1443.31,357.98 1443.95,354.11 1444.59,350.28 1445.24,346.48 1445.88,342.73 1446.52,339.02 1447.16,335.35 1447.8,331.73 1448.44,328.14 1449.08,324.59 1449.72,321.09 1450.37,317.62 1451.01,314.19 1451.65,310.81 1452.29,307.46 1452.93,304.15 1453.57,300.88 1454.21,297.65 1454.86,294.46 1455.5,291.31 1456.14,288.2 1456.78,285.12 1457.42,282.08 1458.06,279.08 1458.7,276.12 1459.35,273.2 1459.99,270.31 1460.63,267.46 1461.27,264.64 1461.91,261.87 1462.55,259.13 1463.19,256.42 1463.83,253.75 1464.48,251.12 1465.12,248.52 1465.76,245.96 1466.4,243.43 1467.04,240.94 1467.68,238.48 1468.32,236.06 1468.97,233.67 1469.61,231.31 1470.25,228.99 1470.89,226.7 1471.53,224.45 1472.17,222.22 1472.81,220.03 1473.45,217.88 1474.1,215.75 1474.74,213.65 1475.38,211.59 1476.02,209.56 1476.66,207.56 1477.3,205.59 1477.94,203.64 1478.59,201.73 1479.23,199.85 1480.51,196.18 1481.79,192.62 1483.07,189.17 1484.36,185.84 1485.64,182.61 1486.92,179.49 1488.21,176.47 1489.49,173.55 1490.77,170.73 1492.05,168 1493.34,165.37 1494.62,162.82 1495.9,160.37 1497.18,157.99 1498.47,155.71 1499.75,153.5 1501.03,151.35 1502.31,149.28 1503.6,147.29 1504.88,145.36 1506.16,143.5 1507.45,141.7 1508.73,139.96 1510.01,138.29 1511.29,136.67 1512.58,135.11 1513.86,133.59 1515.14,132.13 1516.42,130.72 1517.71,129.36 1518.99,128.04 1520.27,126.76 1521.55,125.52 1523.48,123.73 1525.4,122.02 1527.33,120.39 1529.25,118.83 1531.17,117.34 1533.1,115.9 1535.02,114.52 1536.95,113.2 1538.87,111.92 1540.79,110.69 1542.72,109.5 1544.64,108.34 1546.57,107.23 1548.49,106.15 1550.41,105.1 1552.34,104.08 1554.26,103.09 1556.19,102.13 1558.11,101.19 1560.03,100.28 1561.96,99.39 1563.88,98.52 1565.81,97.67 1567.73,96.84 1569.65,96.03 1571.58,95.23 1573.5,94.45 1575.43,93.69 1577.35,92.94 1579.28,92.21 1581.2,91.49 1583.12,90.79 1585.05,90.09 1586.97,89.41 1588.9,88.75 1590.82,88.09 1592.74,87.44 1594.67,86.81 1596.59,86.18 1598.52,85.57 1600.44,84.96 1602.36,84.37 1604.29,83.78 1606.21,83.2 1608.78,82.44 1611.34,81.7 1613.91,80.97 1616.47,80.26 1619.04,79.55 1621.6,78.86 1624.17,78.18 1626.73,77.51 1629.3,76.86 1631.86,76.21 1634.43,75.58 1637,74.95 1639.56,74.34 1642.13,73.73 1644.69,73.13 1647.26,72.54 1649.82,71.96 1652.39,71.39 1654.95,70.83 1657.52,70.27 1660.08,69.72 1662.65,69.18 1665.21,68.65 1667.78,68.12 1670.34,67.6 1672.91,67.09 1675.48,66.58 1678.04,66.08 1680.61,65.58 1683.17,65.09 1685.74,64.61 1688.3,64.13 1690.87,63.66 1693.43,63.19 1696,62.73 1698.56,62.28 1701.13,61.83 1703.69,61.38 1706.26,60.94 1708.83,60.5 1711.39,60.07 1713.96,59.64 1716.52,59.22 1719.09,58.82 1721.65,58.43 1724.22,58.04 1724.86,57.94"/>
<circle cx="1118" cy="541.1" r="5.95" fill="#fff" stroke="#000" stroke-width="2.15"/>
<circle cx="1132.6" cy="546.7" r="5.95" fill="#fff" stroke="#000" stroke-width="2.15"/>
<circle cx="1122.8" cy="564.2" r="5.95" fill="#fff" stroke="#000" stroke-width="2.15"/>
<circle cx="1128.1" cy="590" r="5.95" fill="#fff" stroke="#000" stroke-width="2.15"/>
<circle cx="1157.9" cy="567.7" r="5.95" fill="#fff" stroke="#000" stroke-width="2.15"/>
<circle cx="1152.6" cy="582" r="5.95" fill="#fff" stroke="#000" stroke-width="2.15"/>
<circle cx="1187.8" cy="587.4" r="5.95" fill="#fff" stroke="#000" stroke-width="2.15"/>
<circle cx="1193.4" cy="589.4" r="5.95" fill="#fff" stroke="#000" stroke-width="2.15"/>
<circle cx="1203.9" cy="535.8" r="5.95" fill="#fff" stroke="#000" stroke-width="2.15"/>
<circle cx="1209" cy="542" r="5.95" fill="#fff" stroke="#000" stroke-width="2.15"/>
<circle cx="1219.9" cy="545.9" r="5.95" fill="#fff" stroke="#000" stroke-width="2.15"/>
<circle cx="1241.2" cy="592.6" r="5.95" fill="#fff" stroke="#000" stroke-width="2.15"/>
<circle cx="1246.8" cy="603.2" r="5.95" fill="#fff" stroke="#000" stroke-width="2.15"/>
<circle cx="1257" cy="566.2" r="5.95" fill="#fff" stroke="#000" stroke-width="2.15"/>
<circle cx="1284.7" cy="579.1" r="5.95" fill="#fff" stroke="#000" stroke-width="2.15"/>
<circle cx="1279.4" cy="589.8" r="5.95" fill="#fff" stroke="#000" stroke-width="2.15"/>
<circle cx="1296" cy="548.9" r="5.95" fill="#fff" stroke="#000" stroke-width="2.15"/>
<circle cx="1307.7" cy="532.3" r="5.95" fill="#fff" stroke="#000" stroke-width="2.15"/>
<circle cx="1313.4" cy="553" r="5.95" fill="#fff" stroke="#000" stroke-width="2.15"/>
<circle cx="1318.7" cy="521.3" r="5.95" fill="#fff" stroke="#000" stroke-width="2.15"/>
<circle cx="1324.7" cy="506.4" r="5.95" fill="#fff" stroke="#000" stroke-width="2.15"/>
<circle cx="1330.4" cy="469.9" r="5.95" fill="#fff" stroke="#000" stroke-width="2.15"/>
<circle cx="1336.7" cy="461.5" r="5.95" fill="#fff" stroke="#000" stroke-width="2.15"/>
<circle cx="1342.1" cy="446.9" r="5.95" fill="#fff" stroke="#000" stroke-width="2.15"/>
<circle cx="1348" cy="435.9" r="5.95" fill="#fff" stroke="#000" stroke-width="2.15"/>
<circle cx="1354" cy="418.4" r="5.95" fill="#fff" stroke="#000" stroke-width="2.15"/>
<circle cx="1359.9" cy="395.9" r="5.95" fill="#fff" stroke="#000" stroke-width="2.15"/>
<circle cx="1365.5" cy="371.3" r="5.95" fill="#fff" stroke="#000" stroke-width="2.15"/>
<circle cx="1371.7" cy="343.7" r="5.95" fill="#fff" stroke="#000" stroke-width="2.15"/>
<circle cx="1377.8" cy="322.5" r="5.95" fill="#fff" stroke="#000" stroke-width="2.15"/>
<circle cx="1383.6" cy="296.7" r="5.95" fill="#fff" stroke="#000" stroke-width="2.15"/>
<circle cx="1389.6" cy="270.9" r="5.95" fill="#fff" stroke="#000" stroke-width="2.15"/>
<circle cx="1395.8" cy="246.9" r="5.95" fill="#fff" stroke="#000" stroke-width="2.15"/>
<circle cx="1401.8" cy="223.6" r="5.95" fill="#fff" stroke="#000" stroke-width="2.15"/>
<circle cx="1407.8" cy="201.5" r="5.95" fill="#fff" stroke="#000" stroke-width="2.15"/>
<circle cx="1413.9" cy="179.5" r="5.95" fill="#fff" stroke="#000" stroke-width="2.15"/>
<circle cx="1419.7" cy="157.8" r="5.95" fill="#fff" stroke="#000" stroke-width="2.15"/>
<circle cx="1426.1" cy="139.2" r="5.95" fill="#fff" stroke="#000" stroke-width="2.15"/>
<circle cx="1432.4" cy="121.6" r="5.95" fill="#fff" stroke="#000" stroke-width="2.15"/>
<circle cx="1438.8" cy="107.9" r="5.95" fill="#fff" stroke="#000" stroke-width="2.15"/>
<circle cx="1445.5" cy="96.8" r="5.95" fill="#fff" stroke="#000" stroke-width="2.15"/>
<circle cx="1451.6" cy="88.4" r="5.95" fill="#fff" stroke="#000" stroke-width="2.15"/>
<circle cx="1457.4" cy="80.5" r="5.95" fill="#fff" stroke="#000" stroke-width="2.15"/>
<circle cx="1463.5" cy="75.5" r="5.95" fill="#fff" stroke="#000" stroke-width="2.15"/>
<circle cx="1469.3" cy="69" r="5.95" fill="#fff" stroke="#000" stroke-width="2.15"/>
<circle cx="1475.5" cy="65.98" r="5.95" fill="#fff" stroke="#000" stroke-width="2.15"/>
<circle cx="1481.6" cy="61.89" r="5.95" fill="#fff" stroke="#000" stroke-width="2.15"/>
<circle cx="1488.1" cy="58.3" r="5.95" fill="#fff" stroke="#000" stroke-width="2.15"/>
<circle cx="1494.4" cy="55.61" r="5.95" fill="#fff" stroke="#000" stroke-width="2.15"/>
<circle cx="1501.1" cy="54.1" r="5.95" fill="#fff" stroke="#000" stroke-width="2.15"/>
<circle cx="1507.8" cy="52" r="5.95" fill="#fff" stroke="#000" stroke-width="2.15"/>
<circle cx="1514.5" cy="50.3" r="5.95" fill="#fff" stroke="#000" stroke-width="2.15"/>
<circle cx="1521.2" cy="49.1" r="5.95" fill="#fff" stroke="#000" stroke-width="2.15"/>
<circle cx="1527.9" cy="48.2" r="5.95" fill="#fff" stroke="#000" stroke-width="2.15"/>
<circle cx="1534.6" cy="47.4" r="5.95" fill="#fff" stroke="#000" stroke-width="2.15"/>
<circle cx="1541.3" cy="46.5" r="5.95" fill="#fff" stroke="#000" stroke-width="2.15"/>
<circle cx="1548" cy="45.7" r="5.95" fill="#fff" stroke="#000" stroke-width="2.15"/>
<circle cx="1554.7" cy="45.7" r="5.95" fill="#fff" stroke="#000" stroke-width="2.15"/>
<circle cx="1561.8" cy="44.9" r="5.95" fill="#fff" stroke="#000" stroke-width="2.15"/>
<circle cx="1568.6" cy="44.4" r="5.95" fill="#fff" stroke="#000" stroke-width="2.15"/>
<circle cx="1575.7" cy="44" r="5.95" fill="#fff" stroke="#000" stroke-width="2.15"/>
<circle cx="1582.4" cy="44" r="5.95" fill="#fff" stroke="#000" stroke-width="2.15"/>
<circle cx="1589.1" cy="43.2" r="5.95" fill="#fff" stroke="#000" stroke-width="2.15"/>
<circle cx="1595.9" cy="43" r="5.95" fill="#fff" stroke="#000" stroke-width="2.15"/>
<circle cx="1603.2" cy="42.88" r="5.95" fill="#fff" stroke="#000" stroke-width="2.15"/>
<circle cx="1610.5" cy="42.76" r="5.95" fill="#fff" stroke="#000" stroke-width="2.15"/>
<circle cx="1617.4" cy="42.64" r="5.95" fill="#fff" stroke="#000" stroke-width="2.15"/>
<circle cx="1624.8" cy="42.46" r="5.95" fill="#fff" stroke="#000" stroke-width="2.15"/>
<circle cx="1632.1" cy="42.26" r="5.95" fill="#fff" stroke="#000" stroke-width="2.15"/>
<circle cx="1639.4" cy="42.05" r="5.95" fill="#fff" stroke="#000" stroke-width="2.15"/>
<circle cx="1646.3" cy="41.84" r="5.95" fill="#fff" stroke="#000" stroke-width="2.15"/>
<circle cx="1653.7" cy="41.63" r="5.95" fill="#fff" stroke="#000" stroke-width="2.15"/>
<circle cx="1661" cy="41.42" r="5.95" fill="#fff" stroke="#000" stroke-width="2.15"/>
<circle cx="1668.3" cy="41.21" r="5.95" fill="#fff" stroke="#000" stroke-width="2.15"/>
<circle cx="1675.6" cy="41" r="5.95" fill="#fff" stroke="#000" stroke-width="2.15"/>
<circle cx="1683" cy="40.79" r="5.95" fill="#fff" stroke="#000" stroke-width="2.15"/>
<circle cx="1690.3" cy="40.58" r="5.95" fill="#fff" stroke="#000" stroke-width="2.15"/>
<circle cx="1697.6" cy="40.37" r="5.95" fill="#fff" stroke="#000" stroke-width="2.15"/>
<circle cx="1704.9" cy="40.22" r="5.95" fill="#fff" stroke="#000" stroke-width="2.15"/>
<circle cx="1712.3" cy="40.1" r="5.95" fill="#fff" stroke="#000" stroke-width="2.15"/>
</g>
<path d="M1001 2.4H1716.7V599.1" fill="none" stroke="#000" stroke-width="2.3"/>
<text transform="translate(1041,634.6) scale(1,1.06)" class="tlb" text-anchor="middle">1.2</text>
<text transform="translate(1238.17,634.6) scale(1,1.06)" class="tlb" text-anchor="middle">1.3</text>
<text transform="translate(1435.34,634.6) scale(1,1.06)" class="tlb" text-anchor="middle">1.4</text>
<text transform="translate(1632.51,634.6) scale(1,1.06)" class="tlb" text-anchor="middle">1.5</text>
<text transform="translate(988.2,555.8) scale(1,1.06)" class="tlb" text-anchor="end">0.1</text>
<text transform="translate(988.2,384) scale(1,1.06)" class="tlb" text-anchor="end">1</text>
<text transform="translate(988.2,212.2) scale(1,1.06)" class="tlb" text-anchor="end">10</text>
<text transform="translate(988.2,40.4) scale(1,1.06)" class="tlb" text-anchor="end">100</text>
<text transform="translate(1360,695.6) scale(1,1.025)" class="big" text-anchor="middle">Energy (eV)</text>
<text transform="translate(909.8,277.5) rotate(-90) scale(1,1.025)" class="big" text-anchor="middle">SPV, <tspan style="font-family:'DejaVu Serif', serif;font-size:30px">&#949;</tspan><tspan dy="15.4" style="font-size:32px">im</tspan><tspan dy="-15.4"> (arb. units)</tspan></text>
<text transform="translate(1021,100.9) scale(1,1.09)" class="tl">x=0,01</text>
<text transform="translate(1476.8,534.8) scale(1,1.09)" class="tl">x=0</text>
<text transform="translate(1653.6,576.3) scale(1,1.025)" class="big" style="font-size:42.5px">(b)</text>
<line x1="1064.1" y1="119.6" x2="1097.17" y2="159.74" stroke="#000" stroke-width="1.2"/><path d="M1104.8 169L1093.93 162.41L1100.41 157.07Z" fill="#000"/>
<line x1="1488.1" y1="497.1" x2="1445.79" y2="445.29" stroke="#000" stroke-width="1.2"/><path d="M1438.2 436L1449.04 442.64L1442.54 447.95Z" fill="#000"/>
</g>
</svg>
</body></html>
